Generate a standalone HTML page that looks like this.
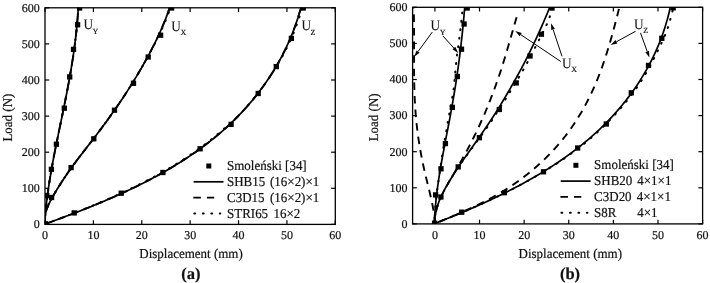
<!DOCTYPE html>
<html><head><meta charset="utf-8"><title>Load-displacement curves</title><style>
html,body{margin:0;padding:0;background:#fff;}
svg{display:block;}
text{font-family:"Liberation Serif", "Times New Roman", serif;text-rendering:geometricPrecision;fill:#111;stroke:#111;stroke-width:0.2;}
.tk{font-size:12px;}
.lg{font-size:13.6px;}
.tt{font-size:13.6px;}
.ul{font-size:14.6px;stroke-width:0.1;}
.us{font-size:8px;}
.pl{font-size:16.5px;font-weight:bold;}
.ax{stroke:#000;stroke-width:1.2;}
.frame{fill:none;stroke:#000;stroke-width:1.3;}
.sol{fill:none;stroke:#000;stroke-width:1.7;stroke-linejoin:round;}
.dsh{fill:none;stroke:#000;stroke-width:1.9;stroke-dasharray:7.6 6;}
.dot{fill:none;stroke:#000;stroke-width:2.0;stroke-dasharray:0.9 7.6;stroke-linecap:round;}
.arr{stroke:#000;stroke-width:1.0;}
</style></head>
<body><svg width="710" height="283" viewBox="0 0 710 283">
<rect width="710" height="283" fill="#fff"/>
<clipPath id="ca"><rect x="45.0" y="7.8" width="290.30" height="216.60"/></clipPath>
<line x1="45.00" y1="224.4" x2="45.00" y2="220.20" class="ax"/>
<line x1="45.00" y1="7.8" x2="45.00" y2="12.00" class="ax"/>
<text transform="translate(45.00,239.20)" class="tk" text-anchor="middle">0</text>
<line x1="93.38" y1="224.4" x2="93.38" y2="220.20" class="ax"/>
<line x1="93.38" y1="7.8" x2="93.38" y2="12.00" class="ax"/>
<text transform="translate(93.38,239.20)" class="tk" text-anchor="middle">10</text>
<line x1="141.77" y1="224.4" x2="141.77" y2="220.20" class="ax"/>
<line x1="141.77" y1="7.8" x2="141.77" y2="12.00" class="ax"/>
<text transform="translate(141.77,239.20)" class="tk" text-anchor="middle">20</text>
<line x1="190.15" y1="224.4" x2="190.15" y2="220.20" class="ax"/>
<line x1="190.15" y1="7.8" x2="190.15" y2="12.00" class="ax"/>
<text transform="translate(190.15,239.20)" class="tk" text-anchor="middle">30</text>
<line x1="238.53" y1="224.4" x2="238.53" y2="220.20" class="ax"/>
<line x1="238.53" y1="7.8" x2="238.53" y2="12.00" class="ax"/>
<text transform="translate(238.53,239.20)" class="tk" text-anchor="middle">40</text>
<line x1="286.92" y1="224.4" x2="286.92" y2="220.20" class="ax"/>
<line x1="286.92" y1="7.8" x2="286.92" y2="12.00" class="ax"/>
<text transform="translate(286.92,239.20)" class="tk" text-anchor="middle">50</text>
<line x1="335.30" y1="224.4" x2="335.30" y2="220.20" class="ax"/>
<line x1="335.30" y1="7.8" x2="335.30" y2="12.00" class="ax"/>
<text transform="translate(335.30,239.20)" class="tk" text-anchor="middle">60</text>
<line x1="45.0" y1="224.40" x2="49.20" y2="224.40" class="ax"/>
<line x1="335.3" y1="224.40" x2="331.10" y2="224.40" class="ax"/>
<text transform="translate(39.80,228.20)" class="tk" text-anchor="end">0</text>
<line x1="45.0" y1="188.30" x2="49.20" y2="188.30" class="ax"/>
<line x1="335.3" y1="188.30" x2="331.10" y2="188.30" class="ax"/>
<text transform="translate(39.80,192.10)" class="tk" text-anchor="end">100</text>
<line x1="45.0" y1="152.20" x2="49.20" y2="152.20" class="ax"/>
<line x1="335.3" y1="152.20" x2="331.10" y2="152.20" class="ax"/>
<text transform="translate(39.80,156.00)" class="tk" text-anchor="end">200</text>
<line x1="45.0" y1="116.10" x2="49.20" y2="116.10" class="ax"/>
<line x1="335.3" y1="116.10" x2="331.10" y2="116.10" class="ax"/>
<text transform="translate(39.80,119.90)" class="tk" text-anchor="end">300</text>
<line x1="45.0" y1="80.00" x2="49.20" y2="80.00" class="ax"/>
<line x1="335.3" y1="80.00" x2="331.10" y2="80.00" class="ax"/>
<text transform="translate(39.80,83.80)" class="tk" text-anchor="end">400</text>
<line x1="45.0" y1="43.90" x2="49.20" y2="43.90" class="ax"/>
<line x1="335.3" y1="43.90" x2="331.10" y2="43.90" class="ax"/>
<text transform="translate(39.80,47.70)" class="tk" text-anchor="end">500</text>
<line x1="45.0" y1="7.80" x2="49.20" y2="7.80" class="ax"/>
<line x1="335.3" y1="7.80" x2="331.10" y2="7.80" class="ax"/>
<text transform="translate(39.80,11.60)" class="tk" text-anchor="end">600</text>
<rect x="45.0" y="7.8" width="290.30" height="216.60" class="frame"/>
<path d="M44.61,224.35 L44.71,222.84 L44.81,221.33 L44.91,219.82 L45.02,218.31 L45.14,216.80 L45.27,215.29 L45.40,213.78 L45.53,212.28 L45.67,210.77 L45.82,209.26 L45.97,207.76 L46.13,206.25 L46.30,204.75 L46.46,203.25 L46.64,201.74 L46.82,200.24 L47.00,198.74 L47.19,197.24 L47.39,195.74 L47.58,194.24 L47.79,192.74 L47.99,191.25 L48.21,189.75 L48.42,188.25 L48.64,186.76 L48.87,185.26 L49.10,183.76 L49.33,182.27 L49.57,180.78 L49.81,179.28 L50.05,177.79 L50.30,176.30 L50.55,174.80 L50.80,173.31 L51.06,171.82 L51.32,170.33 L51.58,168.84 L51.85,167.35 L52.12,165.86 L52.39,164.37 L52.67,162.88 L52.94,161.39 L53.22,159.90 L53.50,158.41 L53.79,156.92 L54.07,155.43 L54.36,153.95 L54.65,152.46 L54.94,150.97 L55.24,149.49 L55.53,148.00 L55.83,146.51 L56.13,145.03 L56.43,143.54 L56.73,142.05 L57.03,140.57 L57.34,139.08 L57.64,137.60 L57.95,136.11 L58.25,134.63 L58.56,133.14 L58.87,131.66 L59.17,130.17 L59.48,128.69 L59.79,127.20 L60.10,125.72 L60.41,124.23 L60.72,122.75 L61.02,121.26 L61.33,119.78 L61.64,118.29 L61.95,116.81 L62.26,115.32 L62.56,113.84 L62.87,112.35 L63.17,110.87 L63.48,109.38 L63.78,107.90 L64.08,106.41 L64.38,104.92 L64.68,103.44 L64.98,101.95 L65.28,100.47 L65.58,98.98 L65.87,97.49 L66.16,96.01 L66.45,94.52 L66.74,93.03 L67.03,91.54 L67.32,90.06 L67.60,88.57 L67.88,87.08 L68.16,85.59 L68.44,84.10 L68.72,82.61 L68.99,81.12 L69.26,79.63 L69.53,78.14 L69.80,76.65 L70.06,75.16 L70.32,73.67 L70.58,72.18 L70.84,70.69 L71.09,69.19 L71.34,67.70 L71.59,66.21 L71.83,64.71 L72.07,63.22 L72.31,61.72 L72.55,60.23 L72.78,58.73 L73.01,57.23 L73.23,55.74 L73.46,54.24 L73.68,52.74 L73.89,51.24 L74.10,49.74 L74.31,48.24 L74.51,46.74 L74.71,45.24 L74.91,43.74 L75.10,42.24 L75.29,40.73 L75.47,39.23 L75.65,37.72 L75.83,36.22 L76.00,34.71 L76.17,33.20 L76.33,31.70 L76.49,30.19 L76.64,28.68 L76.79,27.17 L76.94,25.66 L77.07,24.15 L77.21,22.64 L77.34,21.12 L77.46,19.61 L77.58,18.09 L77.70,16.58 L77.81,15.06 L77.91,13.54 L78.01,12.02 L78.10,10.51 L78.19,8.99 L78.27,7.46 L78.35,5.94" class="sol" clip-path="url(#ca)"/>
<path d="M44.61,224.35 L44.71,222.84 L44.81,221.33 L44.91,219.82 L45.02,218.31 L45.14,216.80 L45.27,215.29 L45.40,213.78 L45.53,212.28 L45.67,210.77 L45.82,209.26 L45.97,207.76 L46.13,206.25 L46.30,204.75 L46.46,203.25 L46.64,201.74 L46.82,200.24 L47.00,198.74 L47.19,197.24 L47.39,195.74 L47.58,194.24 L47.79,192.74 L47.99,191.25 L48.21,189.75 L48.42,188.25 L48.64,186.76 L48.87,185.26 L49.10,183.76 L49.33,182.27 L49.57,180.78 L49.81,179.28 L50.05,177.79 L50.30,176.30 L50.55,174.80 L50.80,173.31 L51.06,171.82 L51.32,170.33 L51.58,168.84 L51.85,167.35 L52.12,165.86 L52.39,164.37 L52.67,162.88 L52.94,161.39 L53.22,159.90 L53.50,158.41 L53.79,156.92 L54.07,155.43 L54.36,153.95 L54.65,152.46 L54.94,150.97 L55.24,149.49 L55.53,148.00 L55.83,146.51 L56.13,145.03 L56.43,143.54 L56.73,142.05 L57.03,140.57 L57.34,139.08 L57.64,137.60 L57.95,136.11 L58.25,134.63 L58.56,133.14 L58.87,131.66 L59.17,130.17 L59.48,128.69 L59.79,127.20 L60.10,125.72 L60.41,124.23 L60.72,122.75 L61.02,121.26 L61.33,119.78 L61.64,118.29 L61.95,116.81 L62.26,115.32 L62.56,113.84 L62.87,112.35 L63.17,110.87 L63.48,109.38 L63.78,107.90 L64.08,106.41 L64.38,104.92 L64.68,103.44 L64.98,101.95 L65.28,100.47 L65.58,98.98 L65.87,97.49 L66.16,96.01 L66.45,94.52 L66.74,93.03 L67.03,91.54 L67.32,90.06 L67.60,88.57 L67.88,87.08 L68.16,85.59 L68.44,84.10 L68.72,82.61 L68.99,81.12 L69.26,79.63 L69.53,78.14 L69.80,76.65 L70.06,75.16 L70.32,73.67 L70.58,72.18 L70.84,70.69 L71.09,69.19 L71.34,67.70 L71.59,66.21 L71.83,64.71 L72.07,63.22 L72.31,61.72 L72.55,60.23 L72.78,58.73 L73.01,57.23 L73.23,55.74 L73.46,54.24 L73.68,52.74 L73.89,51.24 L74.10,49.74 L74.31,48.24 L74.51,46.74 L74.71,45.24 L74.91,43.74 L75.10,42.24 L75.29,40.73 L75.47,39.23 L75.65,37.72 L75.83,36.22 L76.00,34.71 L76.17,33.20 L76.33,31.70 L76.49,30.19 L76.64,28.68 L76.79,27.17 L76.94,25.66 L77.07,24.15 L77.21,22.64 L77.34,21.12 L77.46,19.61 L77.58,18.09 L77.70,16.58 L77.81,15.06 L77.91,13.54 L78.01,12.02 L78.10,10.51 L78.19,8.99 L78.27,7.46 L78.35,5.94" class="dsh" clip-path="url(#ca)"/>
<path d="M44.61,224.35 L44.71,222.84 L44.81,221.33 L44.91,219.82 L45.02,218.31 L45.14,216.80 L45.27,215.29 L45.40,213.78 L45.53,212.28 L45.67,210.77 L45.82,209.26 L45.97,207.76 L46.13,206.25 L46.30,204.75 L46.46,203.25 L46.64,201.74 L46.82,200.24 L47.00,198.74 L47.19,197.24 L47.39,195.74 L47.58,194.24 L47.79,192.74 L47.99,191.25 L48.21,189.75 L48.42,188.25 L48.64,186.76 L48.87,185.26 L49.10,183.76 L49.33,182.27 L49.57,180.78 L49.81,179.28 L50.05,177.79 L50.30,176.30 L50.55,174.80 L50.80,173.31 L51.06,171.82 L51.32,170.33 L51.58,168.84 L51.85,167.35 L52.12,165.86 L52.39,164.37 L52.67,162.88 L52.94,161.39 L53.22,159.90 L53.50,158.41 L53.79,156.92 L54.07,155.43 L54.36,153.95 L54.65,152.46 L54.94,150.97 L55.24,149.49 L55.53,148.00 L55.83,146.51 L56.13,145.03 L56.43,143.54 L56.73,142.05 L57.03,140.57 L57.34,139.08 L57.64,137.60 L57.95,136.11 L58.25,134.63 L58.56,133.14 L58.87,131.66 L59.17,130.17 L59.48,128.69 L59.79,127.20 L60.10,125.72 L60.41,124.23 L60.72,122.75 L61.02,121.26 L61.33,119.78 L61.64,118.29 L61.95,116.81 L62.26,115.32 L62.56,113.84 L62.87,112.35 L63.17,110.87 L63.48,109.38 L63.78,107.90 L64.08,106.41 L64.38,104.92 L64.68,103.44 L64.98,101.95 L65.28,100.47 L65.58,98.98 L65.87,97.49 L66.16,96.01 L66.45,94.52 L66.74,93.03 L67.03,91.54 L67.32,90.06 L67.60,88.57 L67.88,87.08 L68.16,85.59 L68.44,84.10 L68.72,82.61 L68.99,81.12 L69.26,79.63 L69.53,78.14 L69.80,76.65 L70.06,75.16 L70.32,73.67 L70.58,72.18 L70.84,70.69 L71.09,69.19 L71.34,67.70 L71.59,66.21 L71.83,64.71 L72.07,63.22 L72.31,61.72 L72.55,60.23 L72.78,58.73 L73.01,57.23 L73.23,55.74 L73.46,54.24 L73.68,52.74 L73.89,51.24 L74.10,49.74 L74.31,48.24 L74.51,46.74 L74.71,45.24 L74.91,43.74 L75.10,42.24 L75.29,40.73 L75.47,39.23 L75.65,37.72 L75.83,36.22 L76.00,34.71 L76.17,33.20 L76.33,31.70 L76.49,30.19 L76.64,28.68 L76.79,27.17 L76.94,25.66 L77.07,24.15 L77.21,22.64 L77.34,21.12 L77.46,19.61 L77.58,18.09 L77.70,16.58 L77.81,15.06 L77.91,13.54 L78.01,12.02 L78.10,10.51 L78.19,8.99 L78.27,7.46 L78.35,5.94" class="dot" clip-path="url(#ca)"/>
<path d="M44.96,223.85 L44.79,222.39 L44.71,220.94 L44.70,219.50 L44.77,218.07 L44.91,216.64 L45.13,215.22 L45.40,213.81 L45.74,212.41 L46.14,211.01 L46.58,209.62 L47.08,208.24 L47.62,206.86 L48.20,205.49 L48.81,204.13 L49.46,202.77 L50.13,201.42 L50.84,200.08 L51.56,198.74 L52.30,197.41 L53.06,196.08 L53.83,194.76 L54.60,193.44 L55.38,192.13 L56.17,190.83 L56.96,189.52 L57.76,188.23 L58.56,186.94 L59.36,185.65 L60.17,184.37 L60.99,183.09 L61.81,181.82 L62.64,180.55 L63.47,179.29 L64.31,178.02 L65.15,176.77 L66.00,175.51 L66.85,174.26 L67.71,173.01 L68.57,171.77 L69.44,170.53 L70.32,169.29 L71.20,168.06 L72.09,166.82 L72.99,165.59 L73.89,164.36 L74.79,163.14 L75.71,161.92 L76.62,160.69 L77.54,159.47 L78.46,158.26 L79.39,157.04 L80.31,155.82 L81.25,154.61 L82.18,153.40 L83.11,152.19 L84.05,150.98 L84.99,149.77 L85.93,148.56 L86.86,147.35 L87.80,146.14 L88.74,144.93 L89.68,143.72 L90.61,142.51 L91.55,141.31 L92.48,140.10 L93.41,138.89 L94.34,137.68 L95.26,136.47 L96.19,135.26 L97.11,134.05 L98.02,132.83 L98.94,131.62 L99.85,130.41 L100.76,129.19 L101.66,127.98 L102.57,126.76 L103.46,125.54 L104.36,124.32 L105.26,123.10 L106.15,121.88 L107.04,120.66 L107.92,119.44 L108.80,118.21 L109.68,116.99 L110.56,115.76 L111.43,114.53 L112.30,113.31 L113.17,112.07 L114.03,110.84 L114.90,109.61 L115.75,108.37 L116.61,107.14 L117.46,105.90 L118.31,104.66 L119.16,103.42 L120.00,102.18 L120.84,100.93 L121.68,99.68 L122.51,98.44 L123.34,97.18 L124.17,95.93 L124.99,94.68 L125.81,93.42 L126.63,92.16 L127.44,90.90 L128.25,89.64 L129.06,88.38 L129.86,87.11 L130.66,85.84 L131.46,84.57 L132.26,83.30 L133.05,82.02 L133.83,80.75 L134.62,79.47 L135.40,78.18 L136.18,76.90 L136.95,75.61 L137.72,74.32 L138.49,73.03 L139.25,71.73 L140.01,70.44 L140.77,69.13 L141.52,67.83 L142.27,66.53 L143.02,65.22 L143.76,63.91 L144.50,62.59 L145.23,61.27 L145.96,59.95 L146.69,58.63 L147.42,57.30 L148.14,55.97 L148.86,54.64 L149.57,53.31 L150.28,51.97 L150.98,50.63 L151.68,49.28 L152.38,47.93 L153.07,46.58 L153.76,45.22 L154.44,43.87 L155.11,42.50 L155.78,41.14 L156.45,39.77 L157.11,38.40 L157.76,37.02 L158.41,35.64 L159.05,34.26 L159.68,32.87 L160.31,31.48 L160.93,30.08 L161.55,28.69 L162.16,27.28 L162.76,25.88 L163.35,24.47 L163.94,23.05 L164.52,21.63 L165.09,20.21 L165.65,18.78 L166.21,17.35 L166.75,15.92 L167.29,14.48 L167.82,13.04 L168.34,11.59 L168.86,10.14 L169.36,8.68 L169.86,7.22 L170.34,5.76" class="sol" clip-path="url(#ca)"/>
<path d="M44.96,223.85 L44.79,222.39 L44.71,220.94 L44.70,219.50 L44.77,218.07 L44.91,216.64 L45.13,215.22 L45.40,213.81 L45.74,212.41 L46.14,211.01 L46.58,209.62 L47.08,208.24 L47.62,206.86 L48.20,205.49 L48.81,204.13 L49.46,202.77 L50.13,201.42 L50.84,200.08 L51.56,198.74 L52.30,197.41 L53.06,196.08 L53.83,194.76 L54.60,193.44 L55.38,192.13 L56.17,190.83 L56.96,189.52 L57.76,188.23 L58.56,186.94 L59.36,185.65 L60.17,184.37 L60.99,183.09 L61.81,181.82 L62.64,180.55 L63.47,179.29 L64.31,178.02 L65.15,176.77 L66.00,175.51 L66.85,174.26 L67.71,173.01 L68.57,171.77 L69.44,170.53 L70.32,169.29 L71.20,168.06 L72.09,166.82 L72.99,165.59 L73.89,164.36 L74.79,163.14 L75.71,161.92 L76.62,160.69 L77.54,159.47 L78.46,158.26 L79.39,157.04 L80.31,155.82 L81.25,154.61 L82.18,153.40 L83.11,152.19 L84.05,150.98 L84.99,149.77 L85.93,148.56 L86.86,147.35 L87.80,146.14 L88.74,144.93 L89.68,143.72 L90.61,142.51 L91.55,141.31 L92.48,140.10 L93.41,138.89 L94.34,137.68 L95.26,136.47 L96.19,135.26 L97.11,134.05 L98.02,132.83 L98.94,131.62 L99.85,130.41 L100.76,129.19 L101.66,127.98 L102.57,126.76 L103.46,125.54 L104.36,124.32 L105.26,123.10 L106.15,121.88 L107.04,120.66 L107.92,119.44 L108.80,118.21 L109.68,116.99 L110.56,115.76 L111.43,114.53 L112.30,113.31 L113.17,112.07 L114.03,110.84 L114.90,109.61 L115.75,108.37 L116.61,107.14 L117.46,105.90 L118.31,104.66 L119.16,103.42 L120.00,102.18 L120.84,100.93 L121.68,99.68 L122.51,98.44 L123.34,97.18 L124.17,95.93 L124.99,94.68 L125.81,93.42 L126.63,92.16 L127.44,90.90 L128.25,89.64 L129.06,88.38 L129.86,87.11 L130.66,85.84 L131.46,84.57 L132.26,83.30 L133.05,82.02 L133.83,80.75 L134.62,79.47 L135.40,78.18 L136.18,76.90 L136.95,75.61 L137.72,74.32 L138.49,73.03 L139.25,71.73 L140.01,70.44 L140.77,69.13 L141.52,67.83 L142.27,66.53 L143.02,65.22 L143.76,63.91 L144.50,62.59 L145.23,61.27 L145.96,59.95 L146.69,58.63 L147.42,57.30 L148.14,55.97 L148.86,54.64 L149.57,53.31 L150.28,51.97 L150.98,50.63 L151.68,49.28 L152.38,47.93 L153.07,46.58 L153.76,45.22 L154.44,43.87 L155.11,42.50 L155.78,41.14 L156.45,39.77 L157.11,38.40 L157.76,37.02 L158.41,35.64 L159.05,34.26 L159.68,32.87 L160.31,31.48 L160.93,30.08 L161.55,28.69 L162.16,27.28 L162.76,25.88 L163.35,24.47 L163.94,23.05 L164.52,21.63 L165.09,20.21 L165.65,18.78 L166.21,17.35 L166.75,15.92 L167.29,14.48 L167.82,13.04 L168.34,11.59 L168.86,10.14 L169.36,8.68 L169.86,7.22 L170.34,5.76" class="dsh" clip-path="url(#ca)"/>
<path d="M44.96,223.85 L44.79,222.39 L44.71,220.94 L44.70,219.50 L44.77,218.07 L44.91,216.64 L45.13,215.22 L45.40,213.81 L45.74,212.41 L46.14,211.01 L46.58,209.62 L47.08,208.24 L47.62,206.86 L48.20,205.49 L48.81,204.13 L49.46,202.77 L50.13,201.42 L50.84,200.08 L51.56,198.74 L52.30,197.41 L53.06,196.08 L53.83,194.76 L54.60,193.44 L55.38,192.13 L56.17,190.83 L56.96,189.52 L57.76,188.23 L58.56,186.94 L59.36,185.65 L60.17,184.37 L60.99,183.09 L61.81,181.82 L62.64,180.55 L63.47,179.29 L64.31,178.02 L65.15,176.77 L66.00,175.51 L66.85,174.26 L67.71,173.01 L68.57,171.77 L69.44,170.53 L70.32,169.29 L71.20,168.06 L72.09,166.82 L72.99,165.59 L73.89,164.36 L74.79,163.14 L75.71,161.92 L76.62,160.69 L77.54,159.47 L78.46,158.26 L79.39,157.04 L80.31,155.82 L81.25,154.61 L82.18,153.40 L83.11,152.19 L84.05,150.98 L84.99,149.77 L85.93,148.56 L86.86,147.35 L87.80,146.14 L88.74,144.93 L89.68,143.72 L90.61,142.51 L91.55,141.31 L92.48,140.10 L93.41,138.89 L94.34,137.68 L95.26,136.47 L96.19,135.26 L97.11,134.05 L98.02,132.83 L98.94,131.62 L99.85,130.41 L100.76,129.19 L101.66,127.98 L102.57,126.76 L103.46,125.54 L104.36,124.32 L105.26,123.10 L106.15,121.88 L107.04,120.66 L107.92,119.44 L108.80,118.21 L109.68,116.99 L110.56,115.76 L111.43,114.53 L112.30,113.31 L113.17,112.07 L114.03,110.84 L114.90,109.61 L115.75,108.37 L116.61,107.14 L117.46,105.90 L118.31,104.66 L119.16,103.42 L120.00,102.18 L120.84,100.93 L121.68,99.68 L122.51,98.44 L123.34,97.18 L124.17,95.93 L124.99,94.68 L125.81,93.42 L126.63,92.16 L127.44,90.90 L128.25,89.64 L129.06,88.38 L129.86,87.11 L130.66,85.84 L131.46,84.57 L132.26,83.30 L133.05,82.02 L133.83,80.75 L134.62,79.47 L135.40,78.18 L136.18,76.90 L136.95,75.61 L137.72,74.32 L138.49,73.03 L139.25,71.73 L140.01,70.44 L140.77,69.13 L141.52,67.83 L142.27,66.53 L143.02,65.22 L143.76,63.91 L144.50,62.59 L145.23,61.27 L145.97,59.95 L146.72,58.63 L147.46,57.30 L148.21,55.97 L148.94,54.64 L149.68,53.31 L150.41,51.97 L151.14,50.63 L151.86,49.28 L152.58,47.93 L153.29,46.58 L154.00,45.22 L154.71,43.87 L155.40,42.50 L156.10,41.14 L156.78,39.77 L157.47,38.40 L158.14,37.02 L158.81,35.64 L159.48,34.26 L160.14,32.87 L160.79,31.48 L161.43,30.08 L162.06,28.69 L162.69,27.28 L163.31,25.88 L163.92,24.47 L164.52,23.05 L165.12,21.63 L165.71,20.21 L166.29,18.78 L166.86,17.35 L167.42,15.92 L167.98,14.48 L168.53,13.04 L169.07,11.59 L169.60,10.14 L170.12,8.68 L170.63,7.22 L171.13,5.76" class="dot" clip-path="url(#ca)"/>
<path d="M44.98,224.07 L46.38,223.57 L47.77,223.06 L49.16,222.55 L50.56,222.04 L51.96,221.53 L53.35,221.02 L54.75,220.50 L56.15,219.99 L57.55,219.47 L58.95,218.95 L60.35,218.43 L61.75,217.90 L63.16,217.38 L64.56,216.85 L65.96,216.32 L67.37,215.79 L68.77,215.26 L70.17,214.72 L71.58,214.19 L72.98,213.65 L74.39,213.11 L75.79,212.57 L77.20,212.02 L78.61,211.47 L80.01,210.92 L81.42,210.37 L82.82,209.82 L84.23,209.26 L85.63,208.71 L87.04,208.14 L88.44,207.58 L89.85,207.02 L91.25,206.45 L92.65,205.88 L94.06,205.31 L95.46,204.73 L96.86,204.15 L98.26,203.57 L99.67,202.99 L101.07,202.40 L102.46,201.81 L103.86,201.22 L105.26,200.63 L106.66,200.03 L108.05,199.43 L109.45,198.83 L110.84,198.22 L112.24,197.61 L113.63,197.00 L115.02,196.39 L116.41,195.77 L117.80,195.15 L119.18,194.53 L120.57,193.90 L121.95,193.27 L123.34,192.63 L124.72,192.00 L126.10,191.36 L127.48,190.71 L128.85,190.07 L130.23,189.42 L131.60,188.76 L132.97,188.11 L134.34,187.45 L135.71,186.78 L137.08,186.12 L138.44,185.44 L139.80,184.77 L141.16,184.09 L142.52,183.41 L143.88,182.72 L145.23,182.03 L146.58,181.34 L147.93,180.64 L149.28,179.94 L150.62,179.24 L151.96,178.53 L153.30,177.82 L154.64,177.10 L155.98,176.38 L157.31,175.65 L158.64,174.92 L159.96,174.19 L161.29,173.45 L162.61,172.71 L163.93,171.97 L165.24,171.22 L166.55,170.46 L167.86,169.70 L169.17,168.94 L170.47,168.17 L171.77,167.40 L173.07,166.62 L174.36,165.84 L175.65,165.06 L176.94,164.27 L178.22,163.47 L179.50,162.68 L180.78,161.87 L182.05,161.06 L183.32,160.25 L184.59,159.43 L185.85,158.61 L187.11,157.78 L188.37,156.95 L189.62,156.11 L190.87,155.27 L192.11,154.42 L193.35,153.57 L194.58,152.71 L195.82,151.85 L197.04,150.98 L198.27,150.11 L199.49,149.23 L200.70,148.35 L201.91,147.46 L203.12,146.57 L204.32,145.67 L205.52,144.77 L206.71,143.86 L207.90,142.94 L209.09,142.02 L210.27,141.10 L211.44,140.16 L212.61,139.23 L213.78,138.29 L214.94,137.34 L216.10,136.38 L217.25,135.42 L218.40,134.46 L219.54,133.49 L220.68,132.51 L221.81,131.53 L222.93,130.54 L224.05,129.55 L225.17,128.55 L226.28,127.54 L227.39,126.53 L228.49,125.51 L229.58,124.49 L230.67,123.46 L231.76,122.42 L232.84,121.38 L233.91,120.33 L234.98,119.28 L236.04,118.22 L237.10,117.15 L238.15,116.08 L239.19,115.00 L240.23,113.92 L241.26,112.83 L242.29,111.73 L243.31,110.63 L244.33,109.53 L245.33,108.41 L246.34,107.29 L247.33,106.17 L248.32,105.04 L249.31,103.90 L250.29,102.76 L251.26,101.61 L252.22,100.46 L253.18,99.30 L254.13,98.14 L255.08,96.97 L256.02,95.79 L256.95,94.61 L257.88,93.43 L258.80,92.23 L259.71,91.04 L260.61,89.83 L261.51,88.62 L262.40,87.41 L263.29,86.19 L264.17,84.97 L265.04,83.74 L265.90,82.50 L266.76,81.26 L267.60,80.02 L268.45,78.77 L269.28,77.51 L270.11,76.25 L270.93,74.98 L271.74,73.71 L272.55,72.43 L273.34,71.15 L274.13,69.86 L274.91,68.57 L275.69,67.27 L276.46,65.97 L277.22,64.66 L277.97,63.35 L278.71,62.04 L279.45,60.71 L280.17,59.39 L280.89,58.05 L281.60,56.72 L282.31,55.38 L283.00,54.03 L283.69,52.68 L284.37,51.32 L285.04,49.96 L285.70,48.60 L286.36,47.23 L287.00,45.85 L287.64,44.47 L288.27,43.09 L288.89,41.70 L289.50,40.30 L290.10,38.91 L290.70,37.50 L291.28,36.10 L291.86,34.69 L292.42,33.27 L292.98,31.85 L293.53,30.42 L294.07,28.99 L294.61,27.56 L295.13,26.12 L295.64,24.68 L296.15,23.23 L296.64,21.78 L297.13,20.32 L297.61,18.87 L298.07,17.40 L298.53,15.93 L298.98,14.46 L299.42,12.98 L299.85,11.50 L300.27,10.02 L300.68,8.53 L301.08,7.03 L301.47,5.54" class="sol" clip-path="url(#ca)"/>
<path d="M44.98,224.07 L46.38,223.57 L47.77,223.06 L49.16,222.55 L50.56,222.04 L51.96,221.53 L53.35,221.02 L54.75,220.50 L56.15,219.99 L57.55,219.47 L58.95,218.95 L60.35,218.43 L61.75,217.90 L63.16,217.38 L64.56,216.85 L65.96,216.32 L67.37,215.79 L68.77,215.26 L70.17,214.72 L71.58,214.19 L72.98,213.65 L74.39,213.11 L75.79,212.57 L77.20,212.02 L78.61,211.47 L80.01,210.92 L81.42,210.37 L82.82,209.82 L84.23,209.26 L85.63,208.71 L87.04,208.14 L88.44,207.58 L89.85,207.02 L91.25,206.45 L92.65,205.88 L94.06,205.31 L95.46,204.73 L96.86,204.15 L98.26,203.57 L99.67,202.99 L101.07,202.40 L102.46,201.81 L103.86,201.22 L105.26,200.63 L106.66,200.03 L108.05,199.43 L109.45,198.83 L110.84,198.22 L112.24,197.61 L113.63,197.00 L115.02,196.39 L116.41,195.77 L117.80,195.15 L119.18,194.53 L120.57,193.90 L121.95,193.27 L123.34,192.63 L124.72,192.00 L126.10,191.36 L127.48,190.71 L128.85,190.07 L130.23,189.42 L131.60,188.76 L132.97,188.11 L134.34,187.45 L135.71,186.78 L137.08,186.12 L138.44,185.44 L139.80,184.77 L141.16,184.09 L142.52,183.41 L143.88,182.72 L145.23,182.03 L146.58,181.34 L147.93,180.64 L149.28,179.94 L150.62,179.24 L151.96,178.53 L153.30,177.82 L154.64,177.10 L155.98,176.38 L157.31,175.65 L158.64,174.92 L159.96,174.19 L161.29,173.45 L162.61,172.71 L163.93,171.97 L165.24,171.22 L166.55,170.46 L167.86,169.70 L169.17,168.94 L170.47,168.17 L171.77,167.40 L173.07,166.62 L174.36,165.84 L175.65,165.06 L176.94,164.27 L178.22,163.47 L179.50,162.68 L180.78,161.87 L182.05,161.06 L183.32,160.25 L184.59,159.43 L185.85,158.61 L187.11,157.78 L188.37,156.95 L189.62,156.11 L190.87,155.27 L192.11,154.42 L193.35,153.57 L194.58,152.71 L195.82,151.85 L197.04,150.98 L198.27,150.11 L199.49,149.23 L200.70,148.35 L201.91,147.46 L203.12,146.57 L204.32,145.67 L205.52,144.77 L206.71,143.86 L207.90,142.94 L209.09,142.02 L210.27,141.10 L211.44,140.16 L212.61,139.23 L213.78,138.29 L214.94,137.34 L216.10,136.38 L217.25,135.42 L218.40,134.46 L219.54,133.49 L220.68,132.51 L221.81,131.53 L222.93,130.54 L224.05,129.55 L225.17,128.55 L226.28,127.54 L227.39,126.53 L228.49,125.51 L229.58,124.49 L230.67,123.46 L231.76,122.42 L232.84,121.38 L233.91,120.33 L234.98,119.28 L236.04,118.22 L237.10,117.15 L238.15,116.08 L239.19,115.00 L240.23,113.92 L241.26,112.83 L242.29,111.73 L243.31,110.63 L244.33,109.53 L245.33,108.41 L246.34,107.29 L247.33,106.17 L248.32,105.04 L249.31,103.90 L250.29,102.76 L251.26,101.61 L252.22,100.46 L253.18,99.30 L254.13,98.14 L255.08,96.97 L256.02,95.79 L256.95,94.61 L257.88,93.43 L258.80,92.23 L259.71,91.04 L260.61,89.83 L261.51,88.62 L262.40,87.41 L263.29,86.19 L264.17,84.97 L265.04,83.74 L265.90,82.50 L266.76,81.26 L267.60,80.02 L268.45,78.77 L269.28,77.51 L270.11,76.25 L270.93,74.98 L271.74,73.71 L272.55,72.43 L273.34,71.15 L274.13,69.86 L274.91,68.57 L275.69,67.27 L276.46,65.97 L277.22,64.66 L277.97,63.35 L278.71,62.04 L279.45,60.71 L280.17,59.39 L280.89,58.05 L281.60,56.72 L282.31,55.38 L283.00,54.03 L283.69,52.68 L284.37,51.32 L285.04,49.96 L285.70,48.60 L286.36,47.23 L287.00,45.85 L287.64,44.47 L288.27,43.09 L288.89,41.70 L289.50,40.30 L290.10,38.91 L290.70,37.50 L291.28,36.10 L291.86,34.69 L292.42,33.27 L292.98,31.85 L293.53,30.42 L294.07,28.99 L294.61,27.56 L295.13,26.12 L295.64,24.68 L296.15,23.23 L296.64,21.78 L297.13,20.32 L297.61,18.87 L298.07,17.40 L298.53,15.93 L298.98,14.46 L299.42,12.98 L299.85,11.50 L300.27,10.02 L300.68,8.53 L301.08,7.03 L301.47,5.54" class="dsh" clip-path="url(#ca)"/>
<path d="M44.98,224.07 L46.38,223.57 L47.77,223.06 L49.16,222.55 L50.56,222.04 L51.96,221.53 L53.35,221.02 L54.75,220.50 L56.15,219.99 L57.55,219.47 L58.95,218.95 L60.35,218.43 L61.75,217.90 L63.13,217.38 L64.51,216.85 L65.89,216.32 L67.27,215.79 L68.65,215.26 L70.03,214.72 L71.41,214.19 L72.79,213.65 L74.18,213.11 L75.56,212.57 L76.94,212.02 L78.32,211.47 L79.70,210.92 L81.09,210.37 L82.47,209.82 L83.85,209.26 L85.23,208.71 L86.61,208.14 L87.99,207.58 L89.37,207.02 L90.75,206.45 L92.13,205.88 L93.51,205.31 L94.88,204.73 L96.26,204.15 L97.64,203.57 L99.01,202.99 L100.39,202.40 L101.76,201.81 L103.13,201.22 L104.51,200.63 L105.88,200.03 L107.25,199.43 L108.62,198.83 L109.98,198.22 L111.35,197.61 L112.72,197.00 L114.08,196.39 L115.44,195.77 L116.80,195.15 L118.18,194.53 L119.57,193.90 L120.95,193.27 L122.34,192.63 L123.72,192.00 L125.10,191.36 L126.48,190.71 L127.85,190.07 L129.23,189.42 L130.60,188.76 L131.97,188.11 L133.34,187.45 L134.71,186.78 L136.08,186.12 L137.44,185.44 L138.80,184.77 L140.16,184.09 L141.52,183.41 L142.88,182.72 L144.23,182.03 L145.58,181.34 L146.93,180.64 L148.28,179.94 L149.62,179.24 L150.96,178.53 L152.30,177.82 L153.64,177.10 L154.98,176.38 L156.31,175.65 L157.64,174.92 L158.96,174.19 L160.29,173.45 L161.61,172.71 L162.93,171.97 L164.24,171.22 L165.55,170.46 L166.86,169.70 L168.17,168.94 L169.47,168.17 L170.77,167.40 L172.07,166.62 L173.36,165.84 L174.65,165.06 L175.94,164.27 L177.22,163.47 L178.50,162.68 L179.78,161.87 L181.05,161.06 L182.32,160.25 L183.59,159.43 L184.85,158.61 L186.11,157.78 L187.37,156.95 L188.62,156.11 L189.87,155.27 L191.11,154.42 L192.35,153.57 L193.58,152.71 L194.82,151.85 L196.04,150.98 L197.27,150.11 L198.49,149.23 L199.70,148.35 L200.91,147.46 L202.12,146.57 L203.32,145.67 L204.52,144.77 L205.71,143.86 L206.90,142.94 L208.09,142.02 L209.27,141.10 L210.44,140.16 L211.61,139.23 L212.78,138.29 L213.94,137.34 L215.10,136.38 L216.25,135.42 L217.40,134.46 L218.54,133.49 L219.68,132.51 L220.81,131.53 L221.93,130.54 L223.09,129.55 L224.29,128.55 L225.49,127.54 L226.68,126.53 L227.86,125.51 L229.04,124.49 L230.22,123.46 L231.39,122.42 L232.55,121.38 L233.72,120.33 L234.87,119.28 L236.02,118.22 L237.10,117.15 L238.15,116.08 L239.19,115.00 L240.23,113.92 L241.26,112.83 L242.29,111.73 L243.31,110.63 L244.33,109.53 L245.33,108.41 L246.34,107.29 L247.33,106.17 L248.32,105.04 L249.31,103.90 L250.29,102.76 L251.26,101.61 L252.22,100.46 L253.18,99.30 L254.13,98.14 L255.08,96.97 L256.02,95.79 L256.95,94.61 L257.88,93.43 L258.80,92.23 L259.71,91.04 L260.61,89.83 L261.51,88.62 L262.40,87.41 L263.29,86.19 L264.17,84.97 L265.04,83.74 L265.90,82.50 L266.76,81.26 L267.60,80.02 L268.45,78.77 L269.28,77.51 L270.11,76.25 L270.93,74.98 L271.78,73.71 L272.62,72.43 L273.45,71.15 L274.28,69.86 L275.10,68.57 L275.91,67.27 L276.71,65.97 L277.51,64.66 L278.30,63.35 L279.08,62.04 L279.85,60.71 L280.62,59.39 L281.38,58.05 L282.13,56.72 L282.87,55.38 L283.60,54.03 L284.33,52.68 L285.05,51.32 L285.76,49.96 L286.46,48.60 L287.15,47.23 L287.83,45.85 L288.51,44.47 L289.18,43.09 L289.84,41.70 L290.49,40.30 L291.11,38.91 L291.72,37.50 L292.31,36.10 L292.90,34.69 L293.48,33.27 L294.05,31.85 L294.62,30.42 L295.17,28.99 L295.71,27.56 L296.25,26.12 L296.77,24.68 L297.29,23.23 L297.80,21.78 L298.30,20.32 L298.79,18.87 L299.27,17.40 L299.74,15.93 L300.20,14.46 L300.65,12.98 L301.09,11.50 L301.52,10.02 L301.95,8.53 L302.36,7.03 L302.76,5.54" class="dot" clip-path="url(#ca)"/>
<rect x="42.85" y="221.15" width="5.3" height="5.3" fill="#000" clip-path="url(#ca)"/>
<rect x="44.15" y="192.95" width="5.3" height="5.3" fill="#000" clip-path="url(#ca)"/>
<rect x="48.75" y="166.65" width="5.3" height="5.3" fill="#000" clip-path="url(#ca)"/>
<rect x="53.75" y="141.55" width="5.3" height="5.3" fill="#000" clip-path="url(#ca)"/>
<rect x="61.65" y="105.55" width="5.3" height="5.3" fill="#000" clip-path="url(#ca)"/>
<rect x="67.05" y="74.25" width="5.3" height="5.3" fill="#000" clip-path="url(#ca)"/>
<rect x="70.85" y="46.75" width="5.3" height="5.3" fill="#000" clip-path="url(#ca)"/>
<rect x="74.95" y="22.15" width="5.3" height="5.3" fill="#000" clip-path="url(#ca)"/>
<rect x="76.95" y="5.35" width="5.3" height="5.3" fill="#000" clip-path="url(#ca)"/>
<rect x="48.95" y="194.85" width="5.3" height="5.3" fill="#000" clip-path="url(#ca)"/>
<rect x="68.45" y="164.95" width="5.3" height="5.3" fill="#000" clip-path="url(#ca)"/>
<rect x="91.15" y="136.15" width="5.3" height="5.3" fill="#000" clip-path="url(#ca)"/>
<rect x="111.85" y="107.55" width="5.3" height="5.3" fill="#000" clip-path="url(#ca)"/>
<rect x="130.85" y="80.65" width="5.3" height="5.3" fill="#000" clip-path="url(#ca)"/>
<rect x="145.55" y="54.35" width="5.3" height="5.3" fill="#000" clip-path="url(#ca)"/>
<rect x="157.95" y="32.55" width="5.3" height="5.3" fill="#000" clip-path="url(#ca)"/>
<rect x="168.95" y="5.35" width="5.3" height="5.3" fill="#000" clip-path="url(#ca)"/>
<rect x="71.55" y="210.25" width="5.3" height="5.3" fill="#000" clip-path="url(#ca)"/>
<rect x="118.55" y="190.55" width="5.3" height="5.3" fill="#000" clip-path="url(#ca)"/>
<rect x="160.25" y="169.85" width="5.3" height="5.3" fill="#000" clip-path="url(#ca)"/>
<rect x="197.45" y="146.15" width="5.3" height="5.3" fill="#000" clip-path="url(#ca)"/>
<rect x="228.45" y="121.75" width="5.3" height="5.3" fill="#000" clip-path="url(#ca)"/>
<rect x="255.55" y="90.85" width="5.3" height="5.3" fill="#000" clip-path="url(#ca)"/>
<rect x="273.65" y="63.95" width="5.3" height="5.3" fill="#000" clip-path="url(#ca)"/>
<rect x="288.75" y="35.75" width="5.3" height="5.3" fill="#000" clip-path="url(#ca)"/>
<rect x="300.55" y="5.35" width="5.3" height="5.3" fill="#000" clip-path="url(#ca)"/>
<text transform="translate(171.20,30.80) scale(0.91,1)" class="ul">U</text>
<text transform="translate(180.40,35.40)" class="us">X</text>
<text transform="translate(83.40,29.10) scale(0.91,1)" class="ul">U</text>
<text transform="translate(92.60,33.70)" class="us">Y</text>
<text transform="translate(301.40,30.40) scale(0.91,1)" class="ul">U</text>
<text transform="translate(310.60,35.00)" class="us">Z</text>
<rect x="206.30" y="163.50" width="5" height="5" fill="#000"/>
<line x1="193.60" y1="181.80" x2="223.50" y2="181.80" class="sol"/>
<line x1="193.30" y1="197.60" x2="214.20" y2="197.60" class="dsh" stroke-dasharray="7.5 5.9"/>
<line x1="194.30" y1="213.50" x2="220.30" y2="213.50" class="dot" stroke-dasharray="0.8 7.2"/>
<text transform="translate(227.00,169.80) scale(0.955,1)" class="lg">Smoleński [34]</text>
<text transform="translate(227.00,185.80) scale(0.955,1)" class="lg">SHB15</text>
<text transform="translate(270.00,185.80) scale(0.955,1)" class="lg">(16×2)×1</text>
<text transform="translate(227.00,201.70) scale(0.955,1)" class="lg">C3D15</text>
<text transform="translate(270.00,201.70) scale(0.955,1)" class="lg">(16×2)×1</text>
<text transform="translate(227.00,217.50) scale(0.955,1)" class="lg">STRI65</text>
<text transform="translate(273.50,217.50) scale(0.955,1)" class="lg">16×2</text>
<text transform="translate(191.00,257.90) scale(0.955,1)" class="tt" text-anchor="middle">Displacement (mm)</text>
<text transform="translate(12.10,117.60) rotate(-90) scale(0.955,1)" class="tt" text-anchor="middle">Load (N)</text>
<text transform="translate(190.90,278.60)" class="pl" text-anchor="middle">(a)</text>
<clipPath id="cb"><rect x="412.6" y="7.3" width="290.00" height="216.60"/></clipPath>
<line x1="434.91" y1="223.9" x2="434.91" y2="219.70" class="ax"/>
<line x1="434.91" y1="7.3" x2="434.91" y2="11.50" class="ax"/>
<text transform="translate(434.91,238.70)" class="tk" text-anchor="middle">0</text>
<line x1="479.52" y1="223.9" x2="479.52" y2="219.70" class="ax"/>
<line x1="479.52" y1="7.3" x2="479.52" y2="11.50" class="ax"/>
<text transform="translate(479.52,238.70)" class="tk" text-anchor="middle">10</text>
<line x1="524.14" y1="223.9" x2="524.14" y2="219.70" class="ax"/>
<line x1="524.14" y1="7.3" x2="524.14" y2="11.50" class="ax"/>
<text transform="translate(524.14,238.70)" class="tk" text-anchor="middle">20</text>
<line x1="568.75" y1="223.9" x2="568.75" y2="219.70" class="ax"/>
<line x1="568.75" y1="7.3" x2="568.75" y2="11.50" class="ax"/>
<text transform="translate(568.75,238.70)" class="tk" text-anchor="middle">30</text>
<line x1="613.37" y1="223.9" x2="613.37" y2="219.70" class="ax"/>
<line x1="613.37" y1="7.3" x2="613.37" y2="11.50" class="ax"/>
<text transform="translate(613.37,238.70)" class="tk" text-anchor="middle">40</text>
<line x1="657.98" y1="223.9" x2="657.98" y2="219.70" class="ax"/>
<line x1="657.98" y1="7.3" x2="657.98" y2="11.50" class="ax"/>
<text transform="translate(657.98,238.70)" class="tk" text-anchor="middle">50</text>
<line x1="702.60" y1="223.9" x2="702.60" y2="219.70" class="ax"/>
<line x1="702.60" y1="7.3" x2="702.60" y2="11.50" class="ax"/>
<text transform="translate(702.60,238.70)" class="tk" text-anchor="middle">60</text>
<line x1="412.6" y1="223.90" x2="416.80" y2="223.90" class="ax"/>
<line x1="702.6" y1="223.90" x2="698.40" y2="223.90" class="ax"/>
<text transform="translate(407.40,227.70)" class="tk" text-anchor="end">0</text>
<line x1="412.6" y1="187.80" x2="416.80" y2="187.80" class="ax"/>
<line x1="702.6" y1="187.80" x2="698.40" y2="187.80" class="ax"/>
<text transform="translate(407.40,191.60)" class="tk" text-anchor="end">100</text>
<line x1="412.6" y1="151.70" x2="416.80" y2="151.70" class="ax"/>
<line x1="702.6" y1="151.70" x2="698.40" y2="151.70" class="ax"/>
<text transform="translate(407.40,155.50)" class="tk" text-anchor="end">200</text>
<line x1="412.6" y1="115.60" x2="416.80" y2="115.60" class="ax"/>
<line x1="702.6" y1="115.60" x2="698.40" y2="115.60" class="ax"/>
<text transform="translate(407.40,119.40)" class="tk" text-anchor="end">300</text>
<line x1="412.6" y1="79.50" x2="416.80" y2="79.50" class="ax"/>
<line x1="702.6" y1="79.50" x2="698.40" y2="79.50" class="ax"/>
<text transform="translate(407.40,83.30)" class="tk" text-anchor="end">400</text>
<line x1="412.6" y1="43.40" x2="416.80" y2="43.40" class="ax"/>
<line x1="702.6" y1="43.40" x2="698.40" y2="43.40" class="ax"/>
<text transform="translate(407.40,47.20)" class="tk" text-anchor="end">500</text>
<line x1="412.6" y1="7.30" x2="416.80" y2="7.30" class="ax"/>
<line x1="702.6" y1="7.30" x2="698.40" y2="7.30" class="ax"/>
<text transform="translate(407.40,11.10)" class="tk" text-anchor="end">600</text>
<rect x="412.6" y="7.3" width="290.00" height="216.60" class="frame"/>
<path d="M434.41,223.83 L434.46,222.32 L434.51,220.82 L434.58,219.32 L434.65,217.81 L434.73,216.31 L434.81,214.81 L434.91,213.31 L435.01,211.81 L435.12,210.31 L435.23,208.81 L435.35,207.31 L435.48,205.81 L435.62,204.31 L435.76,202.81 L435.90,201.31 L436.06,199.81 L436.22,198.32 L436.38,196.82 L436.55,195.32 L436.73,193.83 L436.91,192.33 L437.09,190.84 L437.29,189.34 L437.48,187.85 L437.68,186.35 L437.89,184.86 L438.10,183.37 L438.32,181.87 L438.54,180.38 L438.76,178.89 L438.99,177.39 L439.22,175.90 L439.45,174.41 L439.69,172.92 L439.94,171.43 L440.18,169.93 L440.43,168.44 L440.68,166.95 L440.94,165.46 L441.20,163.97 L441.46,162.48 L441.72,160.99 L441.99,159.50 L442.25,158.01 L442.52,156.52 L442.80,155.03 L443.07,153.54 L443.35,152.05 L443.63,150.57 L443.91,149.08 L444.19,147.59 L444.47,146.10 L444.75,144.61 L445.04,143.12 L445.32,141.63 L445.61,140.15 L445.89,138.66 L446.18,137.17 L446.47,135.68 L446.75,134.19 L447.04,132.71 L447.33,131.22 L447.62,129.73 L447.90,128.24 L448.19,126.75 L448.48,125.27 L448.76,123.78 L449.04,122.29 L449.33,120.80 L449.61,119.31 L449.89,117.82 L450.17,116.34 L450.45,114.85 L450.72,113.36 L451.00,111.87 L451.27,110.38 L451.54,108.89 L451.81,107.40 L452.08,105.92 L452.34,104.43 L452.60,102.94 L452.86,101.45 L453.12,99.96 L453.37,98.47 L453.62,96.98 L453.87,95.49 L454.12,94.00 L454.37,92.51 L454.61,91.02 L454.85,89.53 L455.09,88.04 L455.33,86.54 L455.56,85.05 L455.79,83.56 L456.02,82.07 L456.25,80.58 L456.47,79.08 L456.70,77.59 L456.92,76.10 L457.13,74.61 L457.35,73.11 L457.56,71.62 L457.78,70.12 L457.98,68.63 L458.19,67.13 L458.40,65.64 L458.60,64.14 L458.80,62.65 L459.00,61.15 L459.20,59.65 L459.39,58.16 L459.58,56.66 L459.77,55.16 L459.96,53.66 L460.14,52.16 L460.33,50.66 L460.51,49.16 L460.69,47.66 L460.86,46.16 L461.04,44.66 L461.21,43.16 L461.38,41.66 L461.55,40.16 L461.72,38.65 L461.88,37.15 L462.04,35.65 L462.20,34.14 L462.36,32.64 L462.52,31.13 L462.67,29.63 L462.82,28.12 L462.97,26.61 L463.12,25.10 L463.26,23.60 L463.41,22.09 L463.55,20.58 L463.69,19.07 L463.82,17.56 L463.96,16.05 L464.09,14.53 L464.22,13.02 L464.35,11.51 L464.48,9.99 L464.60,8.48 L464.73,6.96 L464.85,5.45" class="sol" clip-path="url(#cb)"/>
<path d="M435.04,223.63 L435.00,223.10 L434.96,222.56 L434.92,222.03 L434.88,221.49 L434.83,220.96 L434.78,220.42 L434.73,219.89 L434.68,219.35 L434.62,218.82 L434.56,218.28 L434.50,217.75 L434.44,217.21 L434.37,216.67 L434.31,216.14 L434.24,215.60 L434.16,215.07 L434.09,214.53 L434.01,213.99 L433.94,213.46 L433.86,212.92 L433.78,212.38 L433.69,211.85 L433.61,211.31 L433.52,210.77 L433.43,210.24 L433.34,209.70 L433.25,209.16 L433.15,208.63 L433.06,208.09 L432.96,207.55 L432.86,207.01 L432.76,206.48 L432.66,205.94 L432.56,205.40 L432.45,204.86 L432.35,204.32 L432.24,203.79 L432.13,203.25 L432.02,202.71 L431.91,202.17 L431.80,201.63 L431.68,201.09 L431.57,200.56 L431.45,200.02 L431.33,199.48 L431.21,198.94 L431.10,198.40 L430.98,197.86 L430.85,197.32 L430.73,196.78 L430.61,196.24 L430.49,195.70 L430.36,195.17 L430.24,194.63 L430.11,194.09 L429.98,193.55 L429.86,193.01 L429.73,192.47 L429.60,191.93 L429.47,191.39 L429.34,190.85 L429.21,190.31 L429.08,189.77 L428.95,189.23 L428.82,188.68 L428.68,188.14 L428.55,187.60 L428.42,187.06 L428.29,186.52 L428.15,185.98 L428.02,185.44 L427.89,184.90 L427.75,184.36 L427.62,183.82 L427.49,183.28 L427.35,182.73 L427.22,182.19 L427.09,181.65 L426.95,181.11 L426.82,180.57 L426.69,180.03 L426.56,179.48 L426.42,178.94 L426.29,178.40 L426.16,177.86 L426.03,177.32 L425.90,176.77 L425.77,176.23 L425.64,175.69 L425.51,175.15 L425.38,174.60 L425.25,174.06 L425.12,173.52 L424.99,172.97 L424.87,172.43 L424.74,171.89 L424.61,171.35 L424.49,170.80 L424.37,170.26 L424.24,169.72 L424.12,169.17 L424.00,168.63 L423.88,168.09 L423.76,167.54 L423.64,167.00 L423.52,166.45 L423.40,165.91 L423.29,165.37 L423.17,164.82 L423.05,164.28 L422.94,163.74 L422.82,163.19 L422.71,162.65 L422.60,162.10 L422.49,161.56 L422.38,161.01 L422.26,160.47 L422.15,159.92 L422.05,159.38 L421.94,158.83 L421.83,158.29 L421.72,157.75 L421.62,157.20 L421.51,156.66 L421.41,156.11 L421.30,155.56 L421.20,155.02 L421.10,154.47 L421.00,153.93 L420.90,153.38 L420.80,152.84 L420.70,152.29 L420.60,151.75 L420.50,151.20 L420.41,150.66 L420.31,150.11 L420.21,149.56 L420.12,149.02 L420.03,148.47 L419.93,147.93 L419.84,147.38 L419.75,146.83 L419.66,146.29 L419.57,145.74 L419.48,145.19 L419.39,144.65 L419.30,144.10 L419.22,143.55 L419.13,143.01 L419.04,142.46 L418.96,141.91 L418.88,141.37 L418.79,140.82 L418.71,140.27 L418.63,139.73 L418.55,139.18 L418.47,138.63 L418.39,138.08 L418.31,137.54 L418.23,136.99 L418.16,136.44 L418.08,135.89 L418.00,135.35 L417.93,134.80 L417.86,134.25 L417.78,133.70 L417.71,133.16 L417.64,132.61 L417.57,132.06 L417.50,131.51 L417.43,130.96 L417.36,130.42 L417.29,129.87 L417.23,129.32 L417.16,128.77 L417.10,128.22 L417.03,127.67 L416.97,127.13 L416.91,126.58 L416.84,126.03 L416.78,125.48 L416.72,124.93 L416.66,124.38 L416.60,123.83 L416.55,123.29 L416.49,122.74 L416.43,122.19 L416.38,121.64 L416.32,121.09 L416.27,120.54 L416.22,119.99 L416.16,119.44 L416.11,118.89 L416.06,118.34 L416.01,117.79 L415.96,117.24 L415.91,116.69 L415.87,116.15 L415.82,115.60 L415.77,115.05 L415.73,114.50 L415.68,113.95 L415.64,113.40 L415.60,112.85 L415.55,112.30 L415.51,111.75 L415.47,111.20 L415.43,110.65 L415.39,110.10 L415.35,109.55 L415.32,109.00 L415.28,108.45 L415.24,107.90 L415.21,107.35 L415.17,106.79 L415.14,106.24 L415.11,105.69 L415.07,105.14 L415.04,104.59 L415.01,104.04 L414.98,103.49 L414.95,102.94 L414.92,102.39 L414.89,101.84 L414.86,101.29 L414.83,100.74 L414.81,100.19 L414.78,99.64 L414.75,99.08 L414.73,98.53 L414.70,97.98 L414.68,97.43 L414.66,96.88 L414.63,96.33 L414.61,95.78 L414.59,95.23 L414.57,94.67 L414.55,94.12 L414.53,93.57 L414.51,93.02 L414.49,92.47 L414.47,91.92 L414.45,91.36 L414.43,90.81 L414.41,90.26 L414.40,89.71 L414.38,89.16 L414.37,88.61 L414.35,88.05 L414.34,87.50 L414.32,86.95 L414.31,86.40 L414.29,85.85 L414.28,85.29 L414.27,84.74 L414.26,84.19 L414.24,83.64 L414.23,83.08 L414.22,82.53 L414.21,81.98 L414.20,81.43 L414.19,80.88 L414.18,80.32 L414.17,79.77 L414.16,79.22 L414.15,78.67 L414.15,78.11 L414.14,77.56 L414.13,77.01 L414.12,76.45 L414.12,75.90 L414.11,75.35 L414.11,74.80 L414.10,74.24 L414.09,73.69 L414.09,73.14 L414.08,72.58 L414.08,72.03 L414.08,71.48 L414.07,70.93 L414.07,70.37 L414.06,69.82 L414.06,69.27 L414.06,68.71 L414.05,68.16 L414.05,67.61 L414.05,67.05 L414.05,66.50 L414.05,65.95 L414.04,65.39 L414.04,64.84 L414.04,64.29 L414.04,63.73 L414.04,63.18 L414.04,62.63 L414.04,62.07 L414.04,61.52 L414.04,60.97 L414.04,60.41 L414.04,59.86 L414.04,59.30 L414.04,58.75 L414.04,58.20 L414.04,57.64 L414.04,57.09 L414.04,56.54 L414.04,55.98 L414.04,55.43 L414.04,54.87 L414.04,54.32 L414.04,53.77 L414.04,53.21 L414.04,52.66 L414.04,52.10 L414.05,51.55 L414.05,51.00 L414.05,50.44 L414.05,49.89 L414.05,49.33 L414.05,48.78 L414.05,48.22 L414.05,47.67 L414.05,47.12 L414.06,46.56 L414.06,46.01 L414.06,45.45 L414.06,44.90 L414.06,44.34 L414.06,43.79 L414.06,43.24 L414.06,42.68 L414.06,42.13 L414.06,41.57 L414.06,41.02 L414.07,40.46 L414.07,39.91 L414.07,39.35 L414.07,38.80 L414.07,38.25 L414.07,37.69 L414.07,37.14 L414.07,36.58 L414.06,36.03 L414.06,35.47 L414.06,34.92 L414.06,34.36 L414.06,33.81 L414.06,33.25 L414.06,32.70 L414.06,32.14 L414.05,31.59 L414.05,31.03 L414.05,30.48 L414.05,29.92 L414.04,29.37 L414.04,28.81 L414.04,28.26 L414.04,27.70 L414.03,27.15 L414.03,26.59 L414.02,26.04 L414.02,25.49 L414.01,24.93 L414.01,24.38 L414.00,23.82 L414.00,23.27 L413.99,22.71 L413.99,22.15 L413.98,21.60 L413.97,21.04 L413.96,20.49 L413.96,19.93 L413.95,19.38 L413.94,18.82 L413.93,18.27 L413.92,17.71 L413.91,17.16 L413.90,16.60 L413.89,16.05 L413.88,15.49 L413.87,14.94 L413.86,14.38 L413.85,13.83 L413.84,13.27 L413.82,12.72 L413.81,12.16 L413.80,11.61 L413.78,11.05 L413.77,10.50 L413.76,9.94 L413.74,9.39 L413.72,8.83 L413.71,8.28 L413.69,7.72 L413.67,7.16 L413.66,6.61 L413.64,6.05 L413.62,5.50 L413.60,4.94" class="dsh" clip-path="url(#cb)" stroke-dashoffset="0.45"/>
<path d="M434.41,223.83 L434.46,222.32 L434.51,220.82 L434.58,219.32 L434.65,217.81 L434.73,216.31 L434.81,214.81 L434.91,213.31 L435.01,211.81 L435.12,210.31 L435.23,208.81 L435.35,207.31 L435.48,205.81 L435.62,204.31 L435.76,202.81 L435.90,201.31 L436.06,199.81 L436.22,198.32 L436.38,196.82 L436.55,195.32 L436.73,193.83 L436.91,192.33 L437.09,190.84 L437.29,189.34 L437.48,187.85 L437.68,186.35 L437.89,184.86 L438.10,183.37 L438.32,181.87 L438.54,180.38 L438.76,178.89 L438.99,177.39 L439.22,175.90 L439.44,174.41 L439.64,172.92 L439.84,171.43 L440.05,169.93 L440.26,168.44 L440.47,166.95 L440.68,165.46 L440.90,163.97 L441.12,162.48 L441.35,160.99 L441.57,159.50 L441.80,158.01 L442.03,156.52 L442.26,155.03 L442.50,153.54 L442.74,152.05 L442.97,150.57 L443.21,149.08 L443.45,147.59 L443.70,146.10 L443.94,144.61 L444.20,143.12 L444.45,141.63 L444.71,140.15 L444.97,138.66 L445.22,137.17 L445.48,135.68 L445.74,134.19 L446.00,132.71 L446.25,131.22 L446.51,129.73 L446.77,128.24 L447.02,126.75 L447.28,125.27 L447.54,123.78 L447.79,122.29 L448.04,120.80 L448.31,119.31 L448.59,117.82 L448.87,116.34 L449.15,114.85 L449.42,113.36 L449.70,111.87 L449.97,110.38 L450.24,108.89 L450.51,107.40 L450.78,105.92 L451.04,104.43 L451.30,102.94 L451.56,101.45 L451.82,99.96 L452.07,98.47 L452.32,96.98 L452.57,95.49 L452.82,94.00 L453.07,92.51 L453.31,91.02 L453.55,89.53 L453.79,88.04 L454.00,86.54 L454.14,85.05 L454.28,83.56 L454.41,82.07 L454.55,80.58 L454.68,79.08 L454.81,77.59 L454.93,76.10 L455.06,74.61 L455.18,73.11 L455.30,71.62 L455.44,70.12 L455.60,68.63 L455.75,67.13 L455.91,65.64 L456.05,64.14 L456.20,62.65 L456.35,61.15 L456.49,59.65 L456.63,58.16 L456.79,56.66 L457.01,55.16 L457.22,53.66 L457.44,52.16 L457.65,50.66 L457.86,49.16 L458.06,47.66 L458.27,46.16 L458.47,44.66 L458.67,43.16 L458.87,41.66 L459.07,40.16 L459.27,38.65 L459.46,37.15 L459.65,35.65 L459.84,34.14 L460.02,32.64 L460.21,31.13 L460.39,29.63 L460.57,28.12 L460.75,26.61 L460.93,25.10 L461.10,23.60 L461.27,22.09 L461.44,20.58 L461.61,19.07 L461.77,17.56 L461.94,16.05 L462.09,14.53 L462.22,13.02 L462.35,11.51 L462.48,9.99 L462.60,8.48 L462.73,6.96 L462.85,5.45" class="dot" clip-path="url(#cb)"/>
<path d="M434.66,223.47 L434.66,221.99 L434.70,220.52 L434.79,219.06 L434.92,217.60 L435.10,216.15 L435.31,214.71 L435.56,213.28 L435.85,211.85 L436.18,210.43 L436.54,209.01 L436.94,207.60 L437.36,206.20 L437.82,204.80 L438.31,203.41 L438.82,202.02 L439.37,200.64 L439.93,199.27 L440.52,197.90 L441.14,196.53 L441.77,195.17 L442.43,193.82 L443.10,192.47 L443.79,191.13 L444.50,189.79 L445.22,188.45 L445.95,187.12 L446.70,185.80 L447.46,184.48 L448.22,183.16 L448.99,181.85 L449.78,180.54 L450.57,179.23 L451.37,177.93 L452.18,176.63 L452.99,175.34 L453.81,174.05 L454.64,172.76 L455.47,171.47 L456.31,170.19 L457.16,168.91 L458.01,167.64 L458.87,166.36 L459.72,165.09 L460.59,163.82 L461.45,162.56 L462.33,161.29 L463.20,160.03 L464.07,158.77 L464.95,157.51 L465.83,156.25 L466.71,155.00 L467.59,153.75 L468.47,152.49 L469.36,151.24 L470.24,149.99 L471.12,148.74 L472.01,147.50 L472.89,146.25 L473.77,145.00 L474.65,143.76 L475.54,142.51 L476.41,141.27 L477.29,140.02 L478.17,138.78 L479.05,137.53 L479.92,136.29 L480.79,135.04 L481.66,133.80 L482.52,132.55 L483.39,131.31 L484.25,130.06 L485.10,128.81 L485.96,127.56 L486.81,126.31 L487.65,125.06 L488.49,123.81 L489.33,122.56 L490.16,121.30 L490.99,120.05 L491.81,118.79 L492.63,117.53 L493.44,116.27 L494.25,115.00 L495.06,113.74 L495.86,112.47 L496.65,111.20 L497.45,109.93 L498.23,108.66 L499.02,107.38 L499.80,106.11 L500.58,104.83 L501.35,103.55 L502.12,102.27 L502.89,100.99 L503.66,99.70 L504.42,98.41 L505.18,97.13 L505.94,95.83 L506.70,94.54 L507.45,93.25 L508.21,91.95 L508.96,90.65 L509.71,89.35 L510.46,88.05 L511.20,86.75 L511.95,85.44 L512.69,84.14 L513.44,82.83 L514.18,81.51 L514.92,80.20 L515.66,78.89 L516.40,77.57 L517.14,76.25 L517.87,74.93 L518.60,73.61 L519.33,72.28 L520.05,70.95 L520.77,69.63 L521.49,68.30 L522.20,66.96 L522.90,65.63 L523.61,64.29 L524.30,62.95 L524.99,61.61 L525.68,60.27 L526.36,58.93 L527.04,57.58 L527.71,56.23 L528.38,54.88 L529.05,53.53 L529.71,52.17 L530.37,50.82 L531.03,49.46 L531.69,48.10 L532.34,46.74 L532.99,45.37 L533.64,44.00 L534.28,42.63 L534.93,41.26 L535.57,39.89 L536.20,38.52 L536.84,37.14 L537.47,35.76 L538.10,34.38 L538.73,32.99 L539.36,31.61 L539.98,30.22 L540.60,28.83 L541.22,27.44 L541.83,26.05 L542.44,24.65 L543.05,23.25 L543.66,21.85 L544.27,20.45 L544.87,19.04 L545.47,17.64 L546.07,16.23 L546.66,14.82 L547.25,13.40 L547.84,11.99 L548.42,10.57 L549.00,9.15 L549.57,7.73 L550.14,6.30 L550.71,4.88" class="sol" clip-path="url(#cb)"/>
<path d="M434.54,223.42 L434.55,222.88 L434.56,222.34 L434.58,221.80 L434.61,221.27 L434.64,220.73 L434.67,220.20 L434.72,219.66 L434.76,219.13 L434.82,218.59 L434.87,218.06 L434.94,217.53 L435.01,217.00 L435.08,216.47 L435.16,215.94 L435.25,215.41 L435.34,214.88 L435.43,214.35 L435.53,213.83 L435.63,213.30 L435.74,212.77 L435.86,212.25 L435.98,211.72 L436.10,211.20 L436.23,210.67 L436.36,210.15 L436.50,209.63 L436.64,209.11 L436.79,208.58 L436.94,208.06 L437.09,207.54 L437.25,207.02 L437.41,206.50 L437.58,205.98 L437.75,205.47 L437.93,204.95 L438.11,204.43 L438.29,203.91 L438.47,203.40 L438.66,202.88 L438.86,202.37 L439.05,201.85 L439.25,201.34 L439.46,200.82 L439.67,200.31 L439.88,199.80 L440.09,199.29 L440.31,198.77 L440.53,198.26 L440.75,197.75 L440.97,197.24 L441.20,196.73 L441.43,196.22 L441.67,195.71 L441.91,195.20 L442.15,194.69 L442.39,194.18 L442.63,193.68 L442.88,193.17 L443.13,192.66 L443.38,192.16 L443.64,191.65 L443.89,191.14 L444.15,190.64 L444.41,190.13 L444.68,189.63 L444.94,189.12 L445.21,188.62 L445.48,188.12 L445.75,187.61 L446.02,187.11 L446.29,186.61 L446.57,186.11 L446.85,185.60 L447.13,185.10 L447.41,184.60 L447.69,184.10 L447.97,183.60 L448.25,183.10 L448.54,182.60 L448.82,182.10 L449.11,181.60 L449.40,181.10 L449.69,180.60 L449.98,180.10 L450.27,179.60 L450.56,179.10 L450.85,178.60 L451.15,178.11 L451.44,177.61 L451.73,177.11 L452.03,176.61 L452.32,176.12 L452.62,175.62 L452.91,175.12 L453.21,174.63 L453.50,174.13 L453.80,173.63 L454.09,173.14 L454.39,172.64 L454.68,172.15 L454.98,171.65 L455.27,171.15 L455.56,170.66 L455.86,170.16 L456.15,169.67 L456.44,169.17 L456.74,168.68 L457.03,168.19 L457.32,167.69 L457.61,167.20 L457.90,166.70 L458.19,166.21 L458.47,165.71 L458.76,165.22 L459.05,164.73 L459.33,164.23 L459.62,163.74 L459.90,163.25 L460.18,162.75 L460.47,162.26 L460.75,161.77 L461.03,161.27 L461.31,160.78 L461.59,160.29 L461.86,159.79 L462.14,159.30 L462.42,158.81 L462.69,158.31 L462.97,157.82 L463.24,157.33 L463.52,156.83 L463.79,156.34 L464.06,155.85 L464.33,155.35 L464.60,154.86 L464.87,154.37 L465.14,153.87 L465.41,153.38 L465.68,152.89 L465.95,152.39 L466.21,151.90 L466.48,151.41 L466.74,150.91 L467.01,150.42 L467.27,149.93 L467.53,149.43 L467.79,148.94 L468.06,148.44 L468.32,147.95 L468.58,147.46 L468.84,146.96 L469.09,146.47 L469.35,145.97 L469.61,145.48 L469.87,144.98 L470.12,144.49 L470.38,143.99 L470.63,143.50 L470.88,143.00 L471.14,142.51 L471.39,142.01 L471.64,141.51 L471.89,141.02 L472.14,140.52 L472.39,140.03 L472.64,139.53 L472.89,139.03 L473.14,138.53 L473.38,138.04 L473.63,137.54 L473.88,137.04 L474.12,136.54 L474.37,136.05 L474.61,135.55 L474.85,135.05 L475.10,134.55 L475.34,134.05 L475.58,133.55 L475.82,133.05 L476.06,132.55 L476.30,132.05 L476.54,131.55 L476.78,131.05 L477.02,130.55 L477.25,130.05 L477.49,129.55 L477.73,129.05 L477.96,128.54 L478.20,128.04 L478.43,127.54 L478.67,127.03 L478.90,126.53 L479.13,126.03 L479.36,125.52 L479.60,125.02 L479.83,124.51 L480.06,124.01 L480.29,123.50 L480.52,123.00 L480.75,122.49 L480.97,121.98 L481.20,121.48 L481.43,120.97 L481.66,120.46 L481.88,119.95 L482.11,119.44 L482.33,118.93 L482.56,118.42 L482.78,117.91 L483.00,117.40 L483.23,116.89 L483.45,116.38 L483.67,115.87 L483.89,115.36 L484.11,114.85 L484.34,114.33 L484.56,113.82 L484.77,113.30 L484.99,112.79 L485.21,112.28 L485.43,111.76 L485.65,111.25 L485.86,110.73 L486.08,110.21 L486.30,109.70 L486.51,109.18 L486.73,108.66 L486.94,108.14 L487.15,107.63 L487.37,107.11 L487.58,106.59 L487.79,106.07 L488.00,105.55 L488.21,105.03 L488.43,104.51 L488.64,103.99 L488.85,103.47 L489.05,102.95 L489.26,102.43 L489.47,101.90 L489.68,101.38 L489.88,100.86 L490.09,100.34 L490.30,99.81 L490.50,99.29 L490.71,98.76 L490.91,98.24 L491.12,97.72 L491.32,97.19 L491.52,96.67 L491.72,96.14 L491.93,95.61 L492.13,95.09 L492.33,94.56 L492.53,94.03 L492.73,93.51 L492.93,92.98 L493.12,92.45 L493.32,91.92 L493.52,91.40 L493.72,90.87 L493.91,90.34 L494.11,89.81 L494.30,89.28 L494.50,88.75 L494.69,88.22 L494.89,87.69 L495.08,87.16 L495.27,86.63 L495.46,86.10 L495.66,85.57 L495.85,85.04 L496.04,84.50 L496.23,83.97 L496.42,83.44 L496.60,82.91 L496.79,82.38 L496.98,81.84 L497.17,81.31 L497.35,80.78 L497.54,80.24 L497.73,79.71 L497.91,79.18 L498.10,78.64 L498.28,78.11 L498.46,77.57 L498.65,77.04 L498.83,76.50 L499.01,75.97 L499.19,75.43 L499.37,74.90 L499.55,74.36 L499.73,73.83 L499.91,73.29 L500.09,72.76 L500.27,72.22 L500.44,71.68 L500.62,71.15 L500.80,70.61 L500.97,70.07 L501.15,69.54 L501.32,69.00 L501.50,68.46 L501.67,67.92 L501.84,67.39 L502.02,66.85 L502.19,66.31 L502.36,65.77 L502.53,65.23 L502.70,64.70 L502.87,64.16 L503.04,63.62 L503.21,63.08 L503.37,62.54 L503.54,62.00 L503.71,61.46 L503.88,60.92 L504.04,60.39 L504.21,59.85 L504.37,59.31 L504.54,58.77 L504.70,58.23 L504.86,57.69 L505.03,57.15 L505.19,56.61 L505.35,56.07 L505.52,55.53 L505.68,54.99 L505.84,54.45 L506.00,53.91 L506.16,53.37 L506.32,52.83 L506.48,52.29 L506.64,51.75 L506.80,51.21 L506.96,50.67 L507.12,50.13 L507.28,49.59 L507.43,49.05 L507.59,48.50 L507.75,47.96 L507.91,47.42 L508.06,46.88 L508.22,46.34 L508.38,45.80 L508.53,45.26 L508.69,44.72 L508.85,44.18 L509.00,43.64 L509.16,43.10 L509.31,42.56 L509.47,42.02 L509.62,41.47 L509.78,40.93 L509.93,40.39 L510.09,39.85 L510.24,39.31 L510.40,38.77 L510.55,38.23 L510.71,37.69 L510.86,37.15 L511.02,36.61 L511.17,36.07 L511.33,35.53 L511.48,34.99 L511.63,34.45 L511.79,33.91 L511.94,33.37 L512.10,32.83 L512.25,32.29 L512.41,31.75 L512.56,31.21 L512.72,30.67 L512.87,30.13 L513.03,29.59 L513.18,29.05 L513.34,28.51 L513.49,27.97 L513.65,27.43 L513.80,26.89 L513.96,26.35 L514.11,25.81 L514.27,25.27 L514.43,24.73 L514.58,24.19 L514.74,23.65 L514.90,23.11 L515.05,22.58 L515.21,22.04 L515.37,21.50 L515.53,20.96 L515.68,20.42 L515.84,19.88 L516.00,19.35 L516.16,18.81 L516.32,18.27 L516.48,17.73 L516.64,17.20 L516.80,16.66" class="dsh" clip-path="url(#cb)" stroke-dashoffset="2.01"/>
<path d="M434.66,223.47 L434.66,221.99 L434.70,220.52 L434.79,219.06 L434.92,217.60 L435.10,216.15 L435.31,214.71 L435.56,213.28 L435.85,211.85 L436.18,210.43 L436.54,209.01 L436.94,207.60 L437.36,206.20 L437.82,204.80 L438.31,203.41 L438.82,202.02 L439.37,200.64 L439.93,199.27 L440.52,197.90 L441.14,196.53 L441.77,195.17 L442.43,193.82 L443.10,192.47 L443.79,191.13 L444.50,189.79 L445.22,188.45 L445.95,187.12 L446.70,185.80 L447.46,184.48 L448.22,183.16 L448.99,181.85 L449.78,180.54 L450.57,179.23 L451.37,177.93 L452.18,176.63 L452.99,175.34 L453.81,174.05 L454.64,172.76 L455.47,171.47 L456.31,170.19 L457.18,168.91 L458.06,167.64 L458.94,166.36 L459.82,165.09 L460.71,163.82 L461.60,162.56 L462.50,161.29 L463.40,160.03 L464.30,158.77 L465.20,157.51 L466.10,156.25 L467.01,155.00 L467.92,153.75 L468.82,152.49 L469.73,151.24 L470.64,149.99 L471.56,148.74 L472.48,147.50 L473.40,146.25 L474.32,145.00 L475.24,143.76 L476.16,142.51 L477.08,141.27 L477.99,140.02 L478.91,138.78 L479.82,137.53 L480.73,136.29 L481.64,135.04 L482.54,133.80 L483.45,132.55 L484.35,131.31 L485.24,130.06 L486.11,128.81 L486.97,127.56 L487.82,126.31 L488.68,125.06 L489.52,123.81 L490.37,122.56 L491.21,121.30 L492.04,120.05 L492.87,118.79 L493.69,117.53 L494.51,116.27 L495.33,115.00 L496.14,113.74 L496.95,112.47 L497.75,111.20 L498.55,109.93 L499.38,108.66 L500.21,107.38 L501.04,106.11 L501.86,104.83 L502.68,103.55 L503.49,102.27 L504.31,100.99 L505.12,99.70 L505.93,98.41 L506.73,97.13 L507.54,95.83 L508.34,94.54 L509.14,93.25 L509.94,91.95 L510.74,90.65 L511.53,89.35 L512.33,88.05 L513.13,86.75 L513.93,85.44 L514.73,84.14 L515.53,82.83 L516.32,81.51 L517.12,80.20 L517.91,78.89 L518.70,77.57 L519.49,76.25 L520.27,74.93 L521.06,73.61 L521.84,72.28 L522.61,70.95 L523.38,69.63 L524.13,68.30 L524.87,66.96 L525.61,65.63 L526.34,64.29 L527.07,62.95 L527.79,61.61 L528.51,60.27 L529.23,58.93 L529.94,57.58 L530.64,56.23 L531.34,54.88 L532.04,53.53 L532.74,52.17 L533.43,50.82 L534.12,49.46 L534.81,48.10 L535.50,46.74 L536.18,45.37 L536.89,44.00 L537.60,42.63 L538.31,41.26 L539.02,39.89 L539.73,38.52 L540.43,37.14 L541.13,35.76 L541.83,34.38 L542.53,32.99 L543.23,31.61 L543.92,30.22 L544.61,28.83 L545.29,27.44 L545.98,26.05 L546.63,24.65 L547.19,23.25 L547.75,21.85 L548.31,20.45 L548.86,19.04 L549.41,17.64 L549.96,16.23 L550.50,14.82 L551.04,13.40 L551.58,11.99 L552.11,10.57 L552.64,9.15 L553.17,7.73 L553.69,6.30 L554.21,4.88" class="dot" clip-path="url(#cb)"/>
<path d="M434.80,223.50 L436.18,222.96 L437.55,222.42 L438.92,221.88 L440.30,221.34 L441.67,220.79 L443.05,220.24 L444.42,219.69 L445.80,219.14 L447.18,218.58 L448.56,218.02 L449.94,217.46 L451.32,216.90 L452.70,216.34 L454.08,215.77 L455.46,215.20 L456.84,214.63 L458.22,214.05 L459.60,213.48 L460.99,212.90 L462.37,212.32 L463.75,211.73 L465.13,211.15 L466.52,210.56 L467.90,209.96 L469.28,209.37 L470.66,208.77 L472.04,208.17 L473.43,207.57 L474.81,206.96 L476.19,206.35 L477.57,205.74 L478.95,205.12 L480.33,204.51 L481.70,203.89 L483.08,203.26 L484.46,202.64 L485.83,202.01 L487.21,201.37 L488.58,200.74 L489.96,200.10 L491.33,199.46 L492.70,198.81 L494.07,198.16 L495.44,197.51 L496.81,196.85 L498.18,196.20 L499.54,195.53 L500.90,194.87 L502.27,194.20 L503.63,193.53 L504.99,192.85 L506.35,192.17 L507.70,191.49 L509.06,190.80 L510.41,190.11 L511.76,189.42 L513.11,188.72 L514.46,188.02 L515.80,187.32 L517.15,186.61 L518.49,185.89 L519.83,185.18 L521.17,184.46 L522.50,183.74 L523.83,183.01 L525.16,182.28 L526.49,181.54 L527.82,180.80 L529.14,180.06 L530.46,179.31 L531.78,178.56 L533.09,177.80 L534.41,177.04 L535.72,176.28 L537.02,175.51 L538.33,174.74 L539.63,173.96 L540.93,173.18 L542.22,172.39 L543.52,171.60 L544.81,170.81 L546.09,170.01 L547.38,169.21 L548.66,168.40 L549.93,167.59 L551.21,166.77 L552.48,165.95 L553.74,165.13 L555.00,164.30 L556.26,163.46 L557.52,162.62 L558.77,161.78 L560.02,160.93 L561.26,160.07 L562.50,159.22 L563.74,158.35 L564.97,157.48 L566.20,156.61 L567.43,155.73 L568.65,154.85 L569.86,153.96 L571.07,153.07 L572.28,152.17 L573.49,151.27 L574.68,150.36 L575.88,149.45 L577.07,148.53 L578.25,147.60 L579.44,146.68 L580.61,145.74 L581.78,144.80 L582.95,143.86 L584.11,142.91 L585.27,141.95 L586.42,140.99 L587.57,140.03 L588.71,139.05 L589.85,138.08 L590.98,137.09 L592.11,136.11 L593.23,135.11 L594.35,134.11 L595.46,133.11 L596.57,132.10 L597.67,131.08 L598.76,130.06 L599.85,129.03 L600.94,128.00 L602.02,126.96 L603.09,125.91 L604.15,124.86 L605.22,123.81 L606.27,122.74 L607.32,121.67 L608.36,120.60 L609.40,119.52 L610.43,118.43 L611.46,117.34 L612.48,116.24 L613.49,115.14 L614.50,114.03 L615.50,112.91 L616.49,111.79 L617.48,110.66 L618.46,109.53 L619.44,108.39 L620.40,107.25 L621.37,106.10 L622.32,104.94 L623.27,103.78 L624.21,102.61 L625.14,101.44 L626.07,100.26 L626.99,99.08 L627.90,97.89 L628.81,96.70 L629.71,95.50 L630.60,94.29 L631.49,93.08 L632.37,91.86 L633.24,90.64 L634.10,89.42 L634.95,88.18 L635.80,86.95 L636.64,85.70 L637.48,84.45 L638.30,83.20 L639.12,81.94 L639.93,80.68 L640.73,79.41 L641.52,78.13 L642.31,76.85 L643.09,75.57 L643.86,74.28 L644.62,72.98 L645.38,71.68 L646.12,70.38 L646.86,69.07 L647.59,67.75 L648.31,66.43 L649.02,65.10 L649.73,63.77 L650.42,62.44 L651.11,61.10 L651.79,59.75 L652.46,58.40 L653.12,57.04 L653.77,55.68 L654.42,54.32 L655.05,52.95 L655.68,51.57 L656.30,50.19 L656.91,48.81 L657.50,47.42 L658.10,46.03 L658.68,44.63 L659.25,43.22 L659.81,41.82 L660.36,40.40 L660.91,38.99 L661.44,37.56 L661.97,36.14 L662.48,34.71 L662.99,33.27 L663.48,31.83 L663.97,30.38 L664.45,28.94 L664.91,27.48 L665.37,26.02 L665.82,24.56 L666.25,23.09 L666.68,21.62 L667.10,20.14 L667.51,18.66 L667.90,17.18 L668.29,15.69 L668.67,14.20 L669.03,12.70 L669.39,11.20 L669.73,9.69 L670.07,8.18 L670.39,6.67 L670.70,5.15" class="sol" clip-path="url(#cb)"/>
<path d="M434.63,223.64 L435.20,223.41 L435.76,223.18 L436.33,222.95 L436.89,222.72 L437.46,222.49 L438.02,222.26 L438.59,222.03 L439.15,221.80 L439.72,221.57 L440.28,221.34 L440.84,221.11 L441.41,220.88 L441.97,220.64 L442.54,220.41 L443.10,220.18 L443.66,219.95 L444.23,219.72 L444.79,219.49 L445.35,219.25 L445.91,219.02 L446.48,218.79 L447.04,218.55 L447.60,218.32 L448.16,218.09 L448.73,217.85 L449.29,217.62 L449.85,217.38 L450.41,217.15 L450.97,216.91 L451.53,216.68 L452.09,216.44 L452.65,216.21 L453.21,215.97 L453.77,215.73 L454.33,215.49 L454.89,215.26 L455.45,215.02 L456.01,214.78 L456.57,214.54 L457.12,214.30 L457.68,214.06 L458.24,213.82 L458.80,213.58 L459.35,213.34 L459.91,213.09 L460.47,212.85 L461.02,212.61 L461.58,212.36 L462.13,212.12 L462.69,211.88 L463.24,211.63 L463.80,211.38 L464.35,211.14 L464.91,210.89 L465.46,210.64 L466.01,210.40 L466.57,210.15 L467.12,209.90 L467.67,209.65 L468.22,209.40 L468.77,209.14 L469.32,208.89 L469.88,208.64 L470.43,208.39 L470.97,208.13 L471.52,207.88 L472.07,207.62 L472.62,207.36 L473.17,207.11 L473.72,206.85 L474.26,206.59 L474.81,206.33 L475.36,206.07 L475.90,205.81 L476.45,205.55 L476.99,205.29 L477.54,205.02 L478.08,204.76 L478.63,204.49 L479.17,204.23 L479.71,203.96 L480.25,203.69 L480.80,203.42 L481.34,203.15 L481.88,202.88 L482.42,202.61 L482.96,202.34 L483.50,202.07 L484.04,201.79 L484.57,201.52 L485.11,201.24 L485.65,200.96 L486.18,200.69 L486.72,200.41 L487.26,200.13 L487.79,199.85 L488.32,199.56 L488.86,199.28 L489.39,199.00 L489.92,198.71 L490.46,198.43 L490.99,198.14 L491.52,197.85 L492.05,197.56 L492.58,197.27 L493.11,196.98 L493.64,196.69 L494.16,196.39 L494.69,196.10 L495.22,195.80 L495.74,195.50 L496.27,195.21 L496.79,194.91 L497.32,194.60 L497.84,194.30 L498.36,194.00 L498.89,193.69 L499.41,193.39 L499.93,193.08 L500.45,192.77 L500.97,192.46 L501.49,192.15 L502.00,191.84 L502.52,191.53 L503.04,191.21 L503.55,190.90 L504.07,190.58 L504.58,190.26 L505.10,189.94 L505.61,189.62 L506.12,189.30 L506.63,188.97 L507.14,188.65 L507.65,188.32 L508.16,187.99 L508.67,187.66 L509.18,187.33 L509.69,187.00 L510.19,186.67 L510.70,186.34 L511.20,186.00 L511.71,185.66 L512.21,185.32 L512.71,184.99 L513.21,184.64 L513.71,184.30 L514.21,183.96 L514.71,183.62 L515.21,183.27 L515.71,182.92 L516.20,182.57 L516.70,182.22 L517.19,181.87 L517.69,181.52 L518.18,181.17 L518.67,180.81 L519.17,180.46 L519.66,180.10 L520.15,179.74 L520.63,179.38 L521.12,179.02 L521.61,178.66 L522.10,178.30 L522.58,177.93 L523.07,177.57 L523.55,177.20 L524.03,176.83 L524.51,176.46 L524.99,176.09 L525.47,175.72 L525.95,175.35 L526.43,174.97 L526.91,174.60 L527.38,174.22 L527.86,173.84 L528.33,173.46 L528.81,173.08 L529.28,172.70 L529.75,172.32 L530.22,171.93 L530.69,171.55 L531.16,171.16 L531.62,170.77 L532.09,170.39 L532.56,170.00 L533.02,169.60 L533.48,169.21 L533.94,168.82 L534.41,168.42 L534.87,168.03 L535.33,167.63 L535.78,167.23 L536.24,166.83 L536.70,166.43 L537.15,166.03 L537.60,165.63 L538.06,165.22 L538.51,164.82 L538.96,164.41 L539.41,164.00 L539.86,163.59 L540.31,163.18 L540.75,162.77 L541.20,162.36 L541.64,161.94 L542.08,161.53 L542.53,161.11 L542.97,160.70 L543.41,160.28 L543.84,159.86 L544.28,159.44 L544.72,159.02 L545.15,158.59 L545.59,158.17 L546.02,157.74 L546.45,157.32 L546.88,156.89 L547.31,156.46 L547.74,156.03 L548.17,155.60 L548.59,155.17 L549.02,154.74 L549.44,154.30 L549.86,153.87 L550.28,153.43 L550.70,152.99 L551.12,152.55 L551.54,152.11 L551.95,151.67 L552.37,151.23 L552.78,150.79 L553.20,150.34 L553.61,149.90 L554.02,149.45 L554.43,149.00 L554.83,148.55 L555.24,148.10 L555.64,147.65 L556.05,147.20 L556.45,146.75 L556.85,146.29 L557.25,145.84 L557.65,145.38 L558.05,144.92 L558.44,144.47 L558.84,144.01 L559.23,143.54 L559.62,143.08 L560.01,142.62 L560.40,142.16 L560.79,141.69 L561.17,141.22 L561.56,140.76 L561.94,140.29 L562.33,139.82 L562.71,139.35 L563.09,138.88 L563.46,138.40 L563.84,137.93 L564.22,137.46 L564.59,136.98 L564.96,136.50 L565.34,136.03 L565.71,135.55 L566.07,135.07 L566.44,134.59 L566.81,134.10 L567.17,133.62 L567.53,133.14 L567.90,132.65 L568.26,132.16 L568.61,131.68 L568.97,131.19 L569.33,130.70 L569.68,130.21 L570.03,129.72 L570.39,129.23 L570.74,128.73 L571.09,128.24 L571.43,127.74 L571.78,127.25 L572.12,126.75 L572.47,126.25 L572.81,125.75 L573.15,125.25 L573.49,124.75 L573.83,124.25 L574.16,123.75 L574.50,123.24 L574.83,122.74 L575.16,122.23 L575.49,121.72 L575.82,121.22 L576.15,120.71 L576.48,120.20 L576.80,119.69 L577.13,119.18 L577.45,118.67 L577.77,118.15 L578.09,117.64 L578.41,117.12 L578.72,116.61 L579.04,116.09 L579.35,115.58 L579.67,115.06 L579.98,114.54 L580.29,114.02 L580.60,113.50 L580.91,112.98 L581.21,112.45 L581.52,111.93 L581.82,111.41 L582.12,110.88 L582.42,110.36 L582.72,109.83 L583.02,109.30 L583.32,108.78 L583.62,108.25 L583.91,107.72 L584.20,107.19 L584.49,106.66 L584.78,106.13 L585.07,105.59 L585.36,105.06 L585.65,104.53 L585.93,103.99 L586.22,103.46 L586.50,102.92 L586.78,102.38 L587.06,101.85 L587.34,101.31 L587.62,100.77 L587.89,100.23 L588.17,99.69 L588.44,99.15 L588.71,98.61 L588.98,98.06 L589.25,97.52 L589.52,96.98 L589.79,96.43 L590.06,95.89 L590.32,95.34 L590.58,94.79 L590.84,94.25 L591.11,93.70 L591.36,93.15 L591.62,92.60 L591.88,92.05 L592.14,91.50 L592.39,90.95 L592.64,90.40 L592.90,89.85 L593.15,89.30 L593.40,88.74 L593.64,88.19 L593.89,87.64 L594.14,87.08 L594.38,86.52 L594.62,85.97 L594.87,85.41 L595.11,84.86 L595.35,84.30 L595.58,83.74 L595.82,83.18 L596.06,82.62 L596.29,82.06 L596.52,81.50 L596.76,80.94 L596.99,80.38 L597.22,79.82 L597.45,79.26 L597.67,78.69 L597.90,78.13 L598.12,77.57 L598.35,77.00 L598.57,76.44 L598.79,75.87 L599.01,75.31 L599.23,74.74 L599.45,74.17 L599.67,73.61 L599.88,73.04 L600.10,72.47 L600.31,71.90 L600.52,71.33 L600.73,70.76 L600.94,70.19 L601.15,69.62 L601.36,69.05 L601.57,68.48 L601.77,67.91 L601.98,67.34 L602.18,66.77 L602.38,66.20 L602.59,65.62 L602.79,65.05 L602.99,64.48 L603.18,63.90 L603.38,63.33 L603.58,62.76 L603.78,62.18 L603.97,61.61 L604.17,61.03 L604.36,60.45 L604.55,59.88 L604.74,59.30 L604.93,58.73 L605.12,58.15 L605.31,57.57 L605.50,56.99 L605.69,56.42 L605.87,55.84 L606.06,55.26 L606.25,54.68 L606.43,54.10 L606.61,53.52 L606.80,52.94 L606.98,52.36 L607.16,51.78 L607.34,51.20 L607.52,50.62 L607.70,50.04 L607.88,49.46 L608.05,48.88 L608.23,48.30 L608.41,47.72 L608.58,47.14 L608.76,46.55 L608.93,45.97 L609.11,45.39 L609.28,44.81 L609.45,44.22 L609.62,43.64 L609.79,43.06 L609.97,42.48 L610.14,41.89 L610.31,41.31 L610.47,40.73 L610.64,40.14 L610.81,39.56 L610.98,38.97 L611.15,38.39 L611.31,37.81 L611.48,37.22 L611.64,36.64 L611.81,36.05 L611.97,35.47 L612.14,34.88 L612.30,34.30 L612.46,33.71 L612.62,33.13 L612.79,32.54 L612.95,31.96 L613.11,31.37 L613.27,30.79 L613.43,30.20 L613.59,29.62 L613.75,29.03 L613.90,28.45 L614.06,27.86 L614.22,27.28 L614.38,26.69 L614.53,26.11 L614.69,25.52 L614.85,24.94 L615.00,24.35 L615.16,23.76 L615.31,23.18 L615.46,22.59 L615.62,22.01 L615.77,21.42 L615.92,20.84 L616.08,20.25 L616.23,19.67 L616.38,19.08 L616.53,18.50 L616.68,17.91 L616.83,17.33 L616.98,16.74 L617.13,16.16 L617.28,15.57 L617.43,14.99 L617.58,14.41 L617.73,13.82 L617.88,13.24 L618.02,12.65 L618.17,12.07 L618.32,11.49 L618.46,10.90 L618.61,10.32 L618.75,9.73 L618.90,9.15 L619.05,8.57 L619.19,7.99 L619.33,7.40 L619.48,6.82 L619.62,6.24 L619.77,5.65 L619.91,5.07" class="dsh" clip-path="url(#cb)" stroke-dashoffset="8.23"/>
<path d="M434.80,223.50 L436.18,222.96 L437.55,222.42 L438.92,221.88 L440.30,221.34 L441.67,220.79 L443.05,220.24 L444.42,219.69 L445.80,219.14 L447.18,218.58 L448.56,218.02 L449.94,217.46 L451.32,216.90 L452.70,216.34 L454.08,215.77 L455.46,215.20 L456.84,214.63 L458.22,214.05 L459.60,213.48 L460.99,212.90 L462.37,212.32 L463.75,211.73 L465.13,211.15 L466.52,210.56 L467.90,209.96 L469.28,209.37 L470.66,208.77 L472.04,208.17 L473.43,207.57 L474.81,206.96 L476.19,206.35 L477.57,205.74 L478.95,205.12 L480.33,204.51 L481.70,203.89 L483.08,203.26 L484.46,202.64 L485.83,202.01 L487.21,201.37 L488.58,200.74 L489.96,200.10 L491.33,199.46 L492.70,198.81 L494.07,198.16 L495.44,197.51 L496.81,196.85 L498.18,196.20 L499.54,195.53 L500.90,194.87 L502.27,194.20 L503.63,193.53 L504.99,192.85 L506.35,192.17 L507.70,191.49 L509.06,190.80 L510.41,190.11 L511.76,189.42 L513.11,188.72 L514.46,188.02 L515.80,187.32 L517.15,186.61 L518.49,185.89 L519.83,185.18 L521.18,184.46 L522.53,183.74 L523.88,183.01 L525.23,182.28 L526.58,181.54 L527.92,180.80 L529.26,180.06 L530.60,179.31 L531.94,178.56 L533.27,177.80 L534.61,177.04 L535.94,176.28 L537.26,175.51 L538.59,174.74 L539.91,173.96 L541.22,173.18 L542.54,172.39 L543.85,171.60 L545.16,170.81 L546.47,170.01 L547.77,169.21 L549.07,168.40 L550.37,167.59 L551.66,166.77 L552.95,165.95 L554.24,165.13 L555.52,164.30 L556.80,163.46 L558.08,162.62 L559.35,161.78 L560.62,160.93 L561.89,160.07 L563.15,159.22 L564.41,158.35 L565.66,157.48 L566.91,156.61 L568.16,155.73 L569.40,154.85 L570.64,153.96 L571.87,153.07 L573.10,152.17 L574.33,151.27 L575.55,150.36 L576.77,149.45 L577.98,148.53 L579.19,147.60 L580.39,146.68 L581.59,145.74 L582.78,144.80 L583.95,143.86 L585.11,142.91 L586.27,141.95 L587.42,140.99 L588.57,140.03 L589.71,139.05 L590.85,138.08 L591.98,137.09 L593.11,136.11 L594.23,135.11 L595.35,134.11 L596.46,133.11 L597.57,132.10 L598.67,131.08 L599.76,130.06 L600.85,129.03 L601.94,128.00 L603.02,126.96 L604.09,125.91 L605.15,124.86 L606.22,123.81 L607.27,122.74 L608.32,121.67 L609.36,120.60 L610.40,119.52 L611.43,118.43 L612.46,117.34 L613.48,116.24 L614.49,115.14 L615.50,114.03 L616.50,112.91 L617.49,111.79 L618.48,110.66 L619.47,109.53 L620.47,108.39 L621.46,107.25 L622.45,106.10 L623.43,104.94 L624.40,103.78 L625.37,102.61 L626.33,101.44 L627.28,100.26 L628.23,99.08 L629.17,97.89 L630.10,96.70 L631.03,95.50 L631.94,94.29 L632.86,93.08 L633.76,91.86 L634.66,90.64 L635.55,89.42 L636.43,88.18 L637.30,86.95 L638.14,85.70 L638.98,84.45 L639.80,83.20 L640.62,81.94 L641.43,80.68 L642.23,79.41 L643.02,78.13 L643.81,76.85 L644.59,75.57 L645.36,74.28 L646.12,72.98 L646.88,71.68 L647.62,70.38 L648.36,69.07 L649.09,67.75 L649.81,66.43 L650.52,65.10 L651.23,63.77 L651.92,62.44 L652.61,61.10 L653.29,59.75 L653.96,58.40 L654.62,57.04 L655.27,55.68 L655.92,54.32 L656.56,52.95 L657.27,51.57 L657.98,50.19 L658.68,48.81 L659.37,47.42 L660.05,46.03 L660.72,44.63 L661.39,43.22 L662.04,41.82 L662.68,40.40 L663.32,38.99 L663.95,37.56 L664.57,36.14 L665.17,34.71 L665.77,33.27 L666.36,31.83 L666.94,30.38 L667.45,28.94 L667.91,27.48 L668.37,26.02 L668.82,24.56 L669.25,23.09 L669.68,21.62 L670.10,20.14 L670.51,18.66 L670.90,17.18 L671.29,15.69 L671.69,14.20 L672.10,12.70 L672.50,11.20 L672.89,9.69 L673.27,8.18 L673.64,6.67 L674.00,5.15" class="dot" clip-path="url(#cb)"/>
<rect x="431.95" y="220.55" width="5.3" height="5.3" fill="#000" clip-path="url(#cb)"/>
<rect x="432.95" y="192.25" width="5.3" height="5.3" fill="#000" clip-path="url(#cb)"/>
<rect x="438.35" y="166.15" width="5.3" height="5.3" fill="#000" clip-path="url(#cb)"/>
<rect x="442.75" y="140.95" width="5.3" height="5.3" fill="#000" clip-path="url(#cb)"/>
<rect x="449.65" y="104.75" width="5.3" height="5.3" fill="#000" clip-path="url(#cb)"/>
<rect x="454.65" y="73.85" width="5.3" height="5.3" fill="#000" clip-path="url(#cb)"/>
<rect x="458.85" y="46.55" width="5.3" height="5.3" fill="#000" clip-path="url(#cb)"/>
<rect x="461.45" y="21.35" width="5.3" height="5.3" fill="#000" clip-path="url(#cb)"/>
<rect x="464.55" y="5.35" width="5.3" height="5.3" fill="#000" clip-path="url(#cb)"/>
<rect x="438.25" y="194.35" width="5.3" height="5.3" fill="#000" clip-path="url(#cb)"/>
<rect x="455.55" y="164.25" width="5.3" height="5.3" fill="#000" clip-path="url(#cb)"/>
<rect x="476.75" y="135.05" width="5.3" height="5.3" fill="#000" clip-path="url(#cb)"/>
<rect x="496.65" y="106.85" width="5.3" height="5.3" fill="#000" clip-path="url(#cb)"/>
<rect x="513.55" y="80.25" width="5.3" height="5.3" fill="#000" clip-path="url(#cb)"/>
<rect x="527.35" y="53.35" width="5.3" height="5.3" fill="#000" clip-path="url(#cb)"/>
<rect x="538.75" y="31.55" width="5.3" height="5.3" fill="#000" clip-path="url(#cb)"/>
<rect x="549.35" y="5.35" width="5.3" height="5.3" fill="#000" clip-path="url(#cb)"/>
<rect x="459.05" y="209.55" width="5.3" height="5.3" fill="#000" clip-path="url(#cb)"/>
<rect x="501.75" y="190.05" width="5.3" height="5.3" fill="#000" clip-path="url(#cb)"/>
<rect x="540.85" y="169.15" width="5.3" height="5.3" fill="#000" clip-path="url(#cb)"/>
<rect x="575.05" y="145.35" width="5.3" height="5.3" fill="#000" clip-path="url(#cb)"/>
<rect x="603.65" y="121.35" width="5.3" height="5.3" fill="#000" clip-path="url(#cb)"/>
<rect x="628.65" y="90.15" width="5.3" height="5.3" fill="#000" clip-path="url(#cb)"/>
<rect x="645.85" y="62.75" width="5.3" height="5.3" fill="#000" clip-path="url(#cb)"/>
<rect x="659.15" y="35.65" width="5.3" height="5.3" fill="#000" clip-path="url(#cb)"/>
<rect x="670.55" y="5.15" width="5.3" height="5.3" fill="#000" clip-path="url(#cb)"/>
<text transform="translate(430.60,30.10) scale(0.91,1)" class="ul">U</text>
<text transform="translate(439.80,34.70)" class="us">Y</text>
<line x1="432.30" y1="32.10" x2="418.04" y2="51.56" class="arr"/>
<polygon points="414.20,56.80 416.51,50.43 419.57,52.68" fill="#000"/>
<line x1="443.00" y1="36.00" x2="453.85" y2="48.07" class="arr"/>
<polygon points="458.20,52.90 452.44,49.34 455.27,46.80" fill="#000"/>
<text transform="translate(562.00,67.60) scale(0.91,1)" class="ul">U</text>
<text transform="translate(571.20,72.20)" class="us">X</text>
<line x1="560.80" y1="61.50" x2="520.70" y2="34.62" class="arr"/>
<polygon points="515.30,31.00 521.76,33.04 519.64,36.20" fill="#000"/>
<line x1="562.00" y1="56.30" x2="553.05" y2="29.37" class="arr"/>
<polygon points="551.00,23.20 554.85,28.77 551.25,29.97" fill="#000"/>
<text transform="translate(634.00,28.60) scale(0.91,1)" class="ul">U</text>
<text transform="translate(643.20,33.20)" class="us">Z</text>
<line x1="635.70" y1="31.20" x2="616.40" y2="41.78" class="arr"/>
<polygon points="610.70,44.90 615.49,40.11 617.31,43.44" fill="#000"/>
<line x1="640.50" y1="32.90" x2="647.20" y2="51.48" class="arr"/>
<polygon points="649.40,57.60 645.41,52.13 648.98,50.84" fill="#000"/>
<rect x="573.40" y="162.80" width="5" height="5" fill="#000"/>
<line x1="560.70" y1="181.10" x2="590.60" y2="181.10" class="sol"/>
<line x1="560.40" y1="196.90" x2="581.30" y2="196.90" class="dsh" stroke-dasharray="7.5 5.9"/>
<line x1="561.40" y1="212.80" x2="587.40" y2="212.80" class="dot" stroke-dasharray="0.8 7.2"/>
<text transform="translate(594.10,169.10) scale(0.955,1)" class="lg">Smoleński [34]</text>
<text transform="translate(594.10,185.10) scale(0.955,1)" class="lg">SHB20</text>
<text transform="translate(637.30,185.10) scale(0.955,1)" class="lg">4×1×1</text>
<text transform="translate(594.10,201.00) scale(0.955,1)" class="lg">C3D20</text>
<text transform="translate(636.80,201.00) scale(0.955,1)" class="lg">4×1×1</text>
<text transform="translate(594.10,216.80) scale(0.955,1)" class="lg">S8R</text>
<text transform="translate(637.30,216.80) scale(0.955,1)" class="lg">4×1</text>
<text transform="translate(570.30,257.90) scale(0.955,1)" class="tt" text-anchor="middle">Displacement (mm)</text>
<text transform="translate(377.70,117.40) rotate(-90) scale(0.955,1)" class="tt" text-anchor="middle">Load (N)</text>
<text transform="translate(570.00,278.60)" class="pl" text-anchor="middle">(b)</text>
</svg></body></html>
